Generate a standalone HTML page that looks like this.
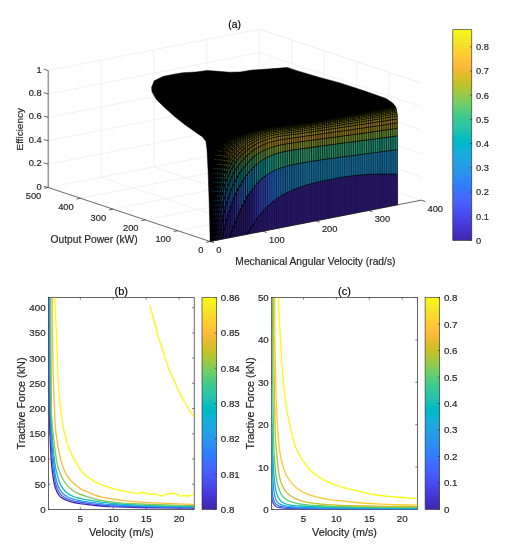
<!DOCTYPE html>
<html><head><meta charset="utf-8"><title>Figure</title>
<style>html,body{margin:0;padding:0;background:#fff;overflow:hidden}svg{display:block}text{font-family:"Liberation Sans", Arial, Helvetica, sans-serif}</style>
</head><body>
<svg width="505" height="550" viewBox="0 0 505 550" font-family='"Liberation Sans", Arial, Helvetica, sans-serif'>
<defs><linearGradient id="pg" x1="0" y1="1" x2="0" y2="0"><stop offset="0.0000" stop-color="#3e26a8"/><stop offset="0.0159" stop-color="#402ab4"/><stop offset="0.0317" stop-color="#422ec0"/><stop offset="0.0476" stop-color="#4332cb"/><stop offset="0.0635" stop-color="#4537d5"/><stop offset="0.0794" stop-color="#463cde"/><stop offset="0.0952" stop-color="#4741e5"/><stop offset="0.1111" stop-color="#4747eb"/><stop offset="0.1270" stop-color="#484df0"/><stop offset="0.1429" stop-color="#4852f4"/><stop offset="0.1587" stop-color="#4758f8"/><stop offset="0.1746" stop-color="#465efb"/><stop offset="0.1905" stop-color="#4563fd"/><stop offset="0.2063" stop-color="#4269fe"/><stop offset="0.2222" stop-color="#3e6fff"/><stop offset="0.2381" stop-color="#3875fe"/><stop offset="0.2540" stop-color="#327cfc"/><stop offset="0.2698" stop-color="#2f81fa"/><stop offset="0.2857" stop-color="#2e87f7"/><stop offset="0.3016" stop-color="#2d8cf3"/><stop offset="0.3175" stop-color="#2b91ef"/><stop offset="0.3333" stop-color="#2797eb"/><stop offset="0.3492" stop-color="#259be8"/><stop offset="0.3651" stop-color="#23a0e5"/><stop offset="0.3810" stop-color="#20a5e3"/><stop offset="0.3968" stop-color="#1ca9df"/><stop offset="0.4127" stop-color="#18addb"/><stop offset="0.4286" stop-color="#12b1d6"/><stop offset="0.4444" stop-color="#08b5d0"/><stop offset="0.4603" stop-color="#01b8ca"/><stop offset="0.4762" stop-color="#02bac3"/><stop offset="0.4921" stop-color="#0bbdbd"/><stop offset="0.5079" stop-color="#19bfb6"/><stop offset="0.5238" stop-color="#24c1ae"/><stop offset="0.5397" stop-color="#2cc4a7"/><stop offset="0.5556" stop-color="#31c69f"/><stop offset="0.5714" stop-color="#37c897"/><stop offset="0.5873" stop-color="#3fca8e"/><stop offset="0.6032" stop-color="#4acb84"/><stop offset="0.6190" stop-color="#57cc7a"/><stop offset="0.6349" stop-color="#64cd6f"/><stop offset="0.6508" stop-color="#72cd64"/><stop offset="0.6667" stop-color="#81cc59"/><stop offset="0.6825" stop-color="#8fcb4e"/><stop offset="0.6984" stop-color="#9dc943"/><stop offset="0.7143" stop-color="#abc739"/><stop offset="0.7302" stop-color="#b9c431"/><stop offset="0.7460" stop-color="#c5c22a"/><stop offset="0.7619" stop-color="#d1bf27"/><stop offset="0.7778" stop-color="#dcbd29"/><stop offset="0.7937" stop-color="#e6bb2d"/><stop offset="0.8095" stop-color="#f0ba36"/><stop offset="0.8254" stop-color="#f8ba3d"/><stop offset="0.8413" stop-color="#febe3c"/><stop offset="0.8571" stop-color="#fec338"/><stop offset="0.8730" stop-color="#fec934"/><stop offset="0.8889" stop-color="#fccf30"/><stop offset="0.9048" stop-color="#fad62d"/><stop offset="0.9206" stop-color="#f7dc2a"/><stop offset="0.9365" stop-color="#f5e327"/><stop offset="0.9524" stop-color="#f5e924"/><stop offset="0.9683" stop-color="#f6ef20"/><stop offset="0.9841" stop-color="#f7f51b"/><stop offset="1.0000" stop-color="#f9fb15"/></linearGradient></defs>
<rect width="505" height="550" fill="#fff"/>
<line x1="263" y1="231.17" x2="101" y2="177.17" stroke="#e9e9e9" stroke-width="0.65"/>
<line x1="101" y1="177.17" x2="101" y2="60.17" stroke="#e9e9e9" stroke-width="0.65"/>
<line x1="315.8" y1="220.84" x2="153.8" y2="166.84" stroke="#e9e9e9" stroke-width="0.65"/>
<line x1="153.8" y1="166.84" x2="153.8" y2="49.84" stroke="#e9e9e9" stroke-width="0.65"/>
<line x1="368.6" y1="210.51" x2="206.6" y2="156.51" stroke="#e9e9e9" stroke-width="0.65"/>
<line x1="206.6" y1="156.51" x2="206.6" y2="39.51" stroke="#e9e9e9" stroke-width="0.65"/>
<line x1="177.8" y1="230.7" x2="389" y2="189.38" stroke="#e9e9e9" stroke-width="0.65"/>
<line x1="389" y1="189.38" x2="389" y2="72.38" stroke="#e9e9e9" stroke-width="0.65"/>
<line x1="145.4" y1="219.9" x2="356.6" y2="178.58" stroke="#e9e9e9" stroke-width="0.65"/>
<line x1="356.6" y1="178.58" x2="356.6" y2="61.58" stroke="#e9e9e9" stroke-width="0.65"/>
<line x1="113" y1="209.1" x2="324.2" y2="167.78" stroke="#e9e9e9" stroke-width="0.65"/>
<line x1="324.2" y1="167.78" x2="324.2" y2="50.78" stroke="#e9e9e9" stroke-width="0.65"/>
<line x1="80.6" y1="198.3" x2="291.8" y2="156.98" stroke="#e9e9e9" stroke-width="0.65"/>
<line x1="291.8" y1="156.98" x2="291.8" y2="39.98" stroke="#e9e9e9" stroke-width="0.65"/>
<line x1="48.2" y1="164.1" x2="259.4" y2="122.78" stroke="#e9e9e9" stroke-width="0.65"/>
<line x1="259.4" y1="122.78" x2="421.4" y2="176.78" stroke="#e9e9e9" stroke-width="0.65"/>
<line x1="48.2" y1="140.7" x2="259.4" y2="99.38" stroke="#e9e9e9" stroke-width="0.65"/>
<line x1="259.4" y1="99.38" x2="421.4" y2="153.38" stroke="#e9e9e9" stroke-width="0.65"/>
<line x1="48.2" y1="117.3" x2="259.4" y2="75.98" stroke="#e9e9e9" stroke-width="0.65"/>
<line x1="259.4" y1="75.98" x2="421.4" y2="129.98" stroke="#e9e9e9" stroke-width="0.65"/>
<line x1="48.2" y1="93.9" x2="259.4" y2="52.58" stroke="#e9e9e9" stroke-width="0.65"/>
<line x1="259.4" y1="52.58" x2="421.4" y2="106.58" stroke="#e9e9e9" stroke-width="0.65"/>
<line x1="48.2" y1="70.5" x2="259.4" y2="29.18" stroke="#e9e9e9" stroke-width="0.65"/>
<line x1="259.4" y1="29.18" x2="421.4" y2="83.18" stroke="#e9e9e9" stroke-width="0.65"/>
<line x1="259.4" y1="146.18" x2="259.4" y2="29.18" stroke="#e9e9e9" stroke-width="0.65"/>
<line x1="48.2" y1="187.5" x2="259.4" y2="146.18" stroke="#e9e9e9" stroke-width="0.65"/>
<line x1="259.4" y1="146.18" x2="421.4" y2="200.18" stroke="#e9e9e9" stroke-width="0.65"/>
<clipPath id="sil"><path d="M151.6,87.4 L154.2,80.8 L163,76.4 L174,74.2 L182.8,72.7 L196,72 L207,70.5 L218,71.3 L229,72.2 L240,72 L252,70.1 L274,68.6 L287.2,67.5 L296,70.4 L318,77 L340,82.9 L364,90.8 L386,98.5 L392.6,102.9 L395.9,107.3 L397.4,115 L397.6,204.8 L210.2,241.5 L209.1,200 L208.1,171 L207,149 L205.9,141.3 L202.6,136.9 L196,132.5 L185,124.8 L174,116 L163,106.1 L156.4,99.5 L152,91.8Z"/></clipPath>
<path d="M151.6,87.4 L154.2,80.8 L163,76.4 L174,74.2 L182.8,72.7 L196,72 L207,70.5 L218,71.3 L229,72.2 L240,72 L252,70.1 L274,68.6 L287.2,67.5 L296,70.4 L318,77 L340,82.9 L364,90.8 L386,98.5 L392.6,102.9 L395.9,107.3 L397.4,115 L397.6,204.8 L210.2,241.5 L209.1,200 L208.1,171 L207,149 L205.9,141.3 L202.6,136.9 L196,132.5 L185,124.8 L174,116 L163,106.1 L156.4,99.5 L152,91.8Z" fill="#000" stroke="#000" stroke-width="0.5" stroke-linejoin="round"/>
<g clip-path="url(#sil)"><g>
<path d="M245.5,234.8L250,233.9L250,229.8L247.7,233.7L245.5,234.6Z" fill="#22145c"/><path d="M249.9,233.9L254.5,233.1L254.5,222.7L249.9,229.8Z" fill="#22155e"/><path d="M254.3,233.1L258.9,232.2L258.9,216.6L254.3,222.7Z" fill="#231561"/><path d="M258.7,232.2L263.3,231.3L263.3,211.2L258.7,216.6Z" fill="#241663"/><path d="M263.1,231.3L267.7,230.5L267.7,206.6L263.1,211.2Z" fill="#251765"/><path d="M267.5,230.5L272.1,229.6L272.1,202.6L267.5,206.6Z" fill="#261768"/><path d="M271.9,229.6L276.5,228.8L276.5,199.2L271.9,202.6Z" fill="#261768"/><path d="M276.4,228.8L303,223.6L303,186.2L294,189.4L287.4,192.5L280.8,196.2L276.4,199.2Z" fill="#261768"/><path d="M302.8,223.6L329.4,218.4L329.4,179.6L320.5,181.5L313.8,183L302.8,186.2Z" fill="#261768"/><path d="M329.3,218.4L355.9,213.2L355.9,175.4L344.7,176.8L329.3,179.6Z" fill="#261768"/><path d="M355.7,213.2L382.4,208L382.3,173.9L369,174.4L355.7,175.4Z" fill="#261768"/><path d="M382.2,208L397.8,205L397.8,174.2L382.2,173.9Z" fill="#261768"/><path d="M227.8,238.2L232.4,237.4L232.4,230.6L230,237.2L227.8,238Z" fill="#1f1356"/><path d="M232.3,237.4L236.8,236.5L236.8,218.7L232.2,230.6Z" fill="#201358"/><path d="M236.7,236.5L241.2,235.7L241.2,208.3L236.7,218.7Z" fill="#21145a"/><path d="M241.1,235.7L245.6,234.8L245.6,199.6L243.3,203.7L241.1,208.3Z" fill="#22155d"/><path d="M245.5,234.8L247.7,233.9L250,230L250,192.6L245.5,199.6Z" fill="#231661"/><path d="M249.9,230L252.2,226.4L252.2,189.5L249.9,192.6Z" fill="#261c73"/><path d="M252.1,226.4L254.5,222.9L254.4,186.7L252.1,189.5Z" fill="#292280"/><path d="M254.3,222.9L256.7,219.8L256.7,184.1L254.3,186.7Z" fill="#2a2889"/><path d="M256.5,219.8L258.9,216.8L258.9,181.8L256.5,184.1Z" fill="#2b2e90"/><path d="M258.7,216.8L261.1,214L261.1,179.7L258.7,181.8Z" fill="#2b3496"/><path d="M260.9,214L263.3,211.4L263.3,177.8L260.9,179.7Z" fill="#2b3a9a"/><path d="M263.1,211.4L265.5,209L265.5,176L263.1,177.8Z" fill="#2a3f9d"/><path d="M265.3,209L267.7,206.8L267.7,174.5L265.3,176Z" fill="#27449f"/><path d="M267.5,206.8L272.1,202.8L272.1,171.8L267.5,174.5Z" fill="#224ca2"/><path d="M271.9,202.8L276.5,199.4L276.5,169.7L271.9,171.8Z" fill="#1e539f"/><path d="M276.4,199.4L280.9,196.4L280.9,168L276.3,169.7Z" fill="#1c589c"/><path d="M280.8,196.4L285.3,193.8L285.3,166.6L280.8,168Z" fill="#1b5c98"/><path d="M285.2,193.8L291.9,190.6L291.9,164.9L285.2,166.6Z" fill="#186096"/><path d="M291.8,190.6L300.8,187.1L300.8,163.2L291.8,164.9Z" fill="#176393"/><path d="M300.6,187.1L305,185.7L311.6,183.8L325,180.7L325,159.3L311.6,161.3L300.6,163.2Z" fill="#156791"/><path d="M324.9,180.7L340.3,177.8L351.5,176.1L351.5,155.8L324.9,159.3Z" fill="#156891"/><path d="M351.3,176.1L364.6,174.8L377.9,174.2L377.9,152.3L351.3,155.8Z" fill="#156791"/><path d="M377.8,174.2L386.6,174.1L397.8,174.4L397.8,149.6L377.8,152.3Z" fill="#166592"/><path d="M219,240L223.6,239.1L223.6,232.5L221.2,239.3L219,239.8Z" fill="#21145b"/><path d="M223.4,239.1L228,238.2L228,215.7L225.6,223.6L223.4,232.5Z" fill="#22155e"/><path d="M227.8,238.2L230,237.4L232.4,230.8L232.4,202.4L230,208.6L227.8,215.7Z" fill="#241763"/><path d="M232.2,230.8L234.6,224.6L234.6,196.9L232.2,202.4Z" fill="#28217f"/><path d="M234.5,224.6L236.8,218.9L236.8,192L234.5,196.9Z" fill="#2a2c8e"/><path d="M236.7,218.9L239,213.5L239,187.6L236.7,192Z" fill="#2a3796"/><path d="M238.9,213.5L241.2,208.5L241.2,183.6L238.9,187.6Z" fill="#27429b"/><path d="M241.1,208.5L243.4,203.9L243.4,180L241.1,183.6Z" fill="#1e4c9c"/><path d="M243.3,203.9L245.6,199.8L245.6,176.7L243.3,180Z" fill="#1c569a"/><path d="M245.5,199.8L247.8,196.1L247.8,173.8L245.5,176.7Z" fill="#1a5d96"/><path d="M247.7,196.1L250,192.8L250,171.1L247.7,173.8Z" fill="#176594"/><path d="M249.9,192.8L252.2,189.7L252.2,168.7L249.9,171.1Z" fill="#146b93"/><path d="M252.1,189.7L254.4,186.9L254.4,166.5L252.1,168.7Z" fill="#117091"/><path d="M254.3,186.9L256.7,184.3L256.6,164.5L254.3,166.5Z" fill="#0c768f"/><path d="M256.5,184.3L258.9,182L258.9,162.7L256.5,164.5Z" fill="#047a8b"/><path d="M258.7,182L261.1,179.9L261.1,161.1L258.7,162.7Z" fill="#007d88"/><path d="M260.9,179.9L265.5,176.2L265.5,158.4L260.9,161.1Z" fill="#058284"/><path d="M265.3,176.2L269.9,173.3L269.9,156.2L265.3,158.4Z" fill="#13887f"/><path d="M269.7,173.3L274.3,170.9L274.3,154.4L269.7,156.2Z" fill="#1d8c7a"/><path d="M274.1,170.9L280.9,168.2L280.9,152.5L274.1,154.4Z" fill="#228d73"/><path d="M280.8,168.2L285.2,166.8L291.9,165.1L291.9,150.2L285.2,151.4L280.8,152.5Z" fill="#28906c"/><path d="M291.8,165.1L302.8,163L318.4,160.5L318.4,146.4L291.8,150.2Z" fill="#2d9166"/><path d="M318.2,160.5L344.8,156.8L344.8,142.9L318.2,146.4Z" fill="#2b9068"/><path d="M344.7,156.8L371.3,153.4L371.3,139.5L344.7,142.9Z" fill="#268f6e"/><path d="M371.2,153.4L397.8,149.8L397.8,135.9L371.1,139.5Z" fill="#218d74"/><path d="M214.6,240.8L219.2,240L219.2,237.1L216.8,240.2L214.6,240.6Z" fill="#1e1253"/><path d="M219,240L221.2,239.5L223.6,232.7L223.6,215L221.2,225.1L219,237.1Z" fill="#1f1356"/><path d="M223.4,232.7L225.8,223.8L225.8,206.4L223.4,215Z" fill="#241e73"/><path d="M225.6,223.8L228,215.9L228,199.1L225.6,206.4Z" fill="#252d83"/><path d="M227.8,215.9L230.2,208.8L230.2,192.8L227.8,199.1Z" fill="#213b89"/><path d="M230,208.8L232.4,202.6L232.4,187.3L230,192.8Z" fill="#194987"/><path d="M232.2,202.6L234.6,197.1L234.6,182.4L232.2,187.3Z" fill="#155382"/><path d="M234.5,197.1L236.8,192.2L236.8,178.1L234.4,182.4Z" fill="#115c7f"/><path d="M236.7,192.2L239,187.8L239,174.3L236.7,178.1Z" fill="#0a647a"/><path d="M238.9,187.8L241.2,183.8L241.2,170.9L238.9,174.3Z" fill="#006a74"/><path d="M241.1,183.8L243.4,180.2L243.4,167.9L241.1,170.9Z" fill="#076e6e"/><path d="M243.3,180.2L245.6,176.9L245.6,165.1L243.3,167.9Z" fill="#147267"/><path d="M245.5,176.9L247.8,174L247.8,162.6L245.5,165.1Z" fill="#1c7661"/><path d="M247.7,174L250,171.3L250,160.4L247.7,162.6Z" fill="#21795b"/><path d="M249.9,171.3L252.2,168.9L252.2,158.4L249.9,160.4Z" fill="#287c56"/><path d="M252.1,168.9L256.6,164.7L256.6,154.9L252.1,158.4Z" fill="#357f4d"/><path d="M256.5,164.7L261.1,161.3L261.1,152.1L256.5,154.9Z" fill="#458342"/><path d="M260.9,161.3L265.5,158.6L265.5,149.8L260.9,152.1Z" fill="#54853a"/><path d="M265.3,158.6L269.9,156.4L269.9,148L265.3,149.8Z" fill="#618733"/><path d="M269.7,156.4L274.3,154.6L274.3,146.6L269.7,148Z" fill="#6a882d"/><path d="M274.1,154.6L278.5,153.2L285.3,151.6L285.3,144L278.5,145.4L274.1,146.6Z" fill="#738727"/><path d="M285.2,151.6L294,150L311.8,147.5L311.8,140.3L294,142.7L285.2,144Z" fill="#7b8522"/><path d="M311.6,147.5L338.2,144L338.2,136.7L311.6,140.3Z" fill="#788624"/><path d="M338.1,144L362.5,140.9L362.5,133.4L338.1,136.7Z" fill="#6f882a"/><path d="M362.3,140.9L388.9,137.3L388.9,129.6L362.3,133.4Z" fill="#668931"/><path d="M388.8,137.3L397.8,136.1L397.7,128.3L388.8,129.6Z" fill="#5f8a36"/><path d="M214.6,240.8L216.8,240.4L219.2,237.3L219.2,222.1L216.8,237L214.6,240.6Z" fill="#1d114e"/><path d="M219,237.3L221.4,225.3L221.4,210.3L219,222.1Z" fill="#201860"/><path d="M221.2,225.3L223.6,215.2L223.6,200.8L221.2,210.3Z" fill="#222977"/><path d="M223.4,215.2L225.8,206.6L225.8,193L223.4,200.8Z" fill="#1b3a7d"/><path d="M225.6,206.6L228,199.3L228,186.4L225.6,193Z" fill="#154877"/><path d="M227.8,199.3L230.2,193L230.2,180.8L227.8,186.4Z" fill="#105372"/><path d="M230,193L232.4,187.5L232.4,176L230,180.8Z" fill="#065c6c"/><path d="M232.2,187.5L234.6,182.6L234.6,171.8L232.2,176Z" fill="#036264"/><path d="M234.4,182.6L236.8,178.3L236.8,168.1L234.4,171.8Z" fill="#13665c"/><path d="M236.7,178.3L239,174.5L239,164.8L236.7,168.1Z" fill="#1b6a54"/><path d="M238.9,174.5L241.2,171.1L241.2,161.9L238.9,164.8Z" fill="#236d4c"/><path d="M241.1,171.1L243.4,168.1L243.4,159.3L241.1,161.9Z" fill="#2e7044"/><path d="M243.3,168.1L245.6,165.3L245.6,157L243.3,159.3Z" fill="#3a723b"/><path d="M245.5,165.3L247.8,162.8L247.8,154.9L245.5,157Z" fill="#457334"/><path d="M247.7,162.8L250,160.6L250,153L247.7,154.9Z" fill="#50742d"/><path d="M249.9,160.6L254.4,156.8L254.4,149.7L249.9,153Z" fill="#5d7425"/><path d="M254.3,156.8L258.8,153.6L258.8,147.1L254.3,149.7Z" fill="#6c751e"/><path d="M258.7,153.6L263.3,151.1L263.3,144.9L258.7,147.1Z" fill="#787619"/><path d="M263.1,151.1L267.7,149.1L267.7,143.1L263.1,144.9Z" fill="#837718"/><path d="M267.5,149.1L272.1,147.4L272.1,141.7L267.5,143.1Z" fill="#8e781a"/><path d="M271.9,147.4L276.5,146.1L276.5,140.6L271.9,141.7Z" fill="#95771e"/><path d="M276.3,146.1L280.7,145.1L287.4,143.9L302.9,141.7L302.9,136.5L285.1,139L276.3,140.6Z" fill="#9d7725"/><path d="M302.8,141.7L329.4,138.1L329.4,132.8L302.8,136.5Z" fill="#9d7725"/><path d="M329.2,138.1L355.8,134.5L355.8,129L329.2,132.8Z" fill="#95771e"/><path d="M355.7,134.5L382.3,130.8L382.3,125.2L355.7,129Z" fill="#8a7919"/><path d="M382.2,130.8L397.7,128.5L397.7,122.8L382.1,125.2Z" fill="#827a19"/><path d="M214.6,240.8L217,237.2L217,224.7L214.6,240.6Z" fill="#1c114b"/><path d="M216.8,237.2L219.2,222.3L219.2,209.9L216.8,224.7Z" fill="#1f175e"/><path d="M219,222.3L221.4,210.5L221.4,198.8L219,209.9Z" fill="#202d75"/><path d="M221.2,210.5L223.6,201L223.6,190L221.2,198.8Z" fill="#154173"/><path d="M223.4,201L225.8,193.2L225.8,182.9L223.4,190Z" fill="#0f4e6c"/><path d="M225.6,193.2L228,186.6L228,177.1L225.6,182.9Z" fill="#025764"/><path d="M227.8,186.6L230.2,181L230.2,172.1L227.8,177.1Z" fill="#0a5e5a"/><path d="M230,181L232.4,176.2L232.4,167.9L230,172.1Z" fill="#176250"/><path d="M232.2,176.2L234.6,172L234.6,164.2L232.2,167.9Z" fill="#216645"/><path d="M234.4,172L236.8,168.3L236.8,161L234.4,164.2Z" fill="#30683b"/><path d="M236.7,168.3L239,165L239,158.2L236.6,161Z" fill="#3e6a31"/><path d="M238.9,165L241.2,162.1L241.2,155.7L238.9,158.2Z" fill="#4b6a29"/><path d="M241.1,162.1L243.4,159.5L243.4,153.4L241.1,155.7Z" fill="#576a21"/><path d="M243.3,159.5L245.6,157.2L245.6,151.4L243.3,153.4Z" fill="#606a1c"/><path d="M245.5,157.2L250,153.2L250,147.9L245.5,151.4Z" fill="#6d6a17"/><path d="M249.9,153.2L254.4,149.9L254.4,145.1L249.9,147.9Z" fill="#7e6a17"/><path d="M254.3,149.9L258.8,147.3L258.8,142.7L254.3,145.1Z" fill="#8d6b20"/><path d="M258.7,147.3L263.3,145.1L263.2,140.8L258.7,142.7Z" fill="#967123"/><path d="M263.1,145.1L267.7,143.3L267.7,139.3L263.1,140.8Z" fill="#997720"/><path d="M267.5,143.3L272.1,141.9L272.1,138L267.5,139.3Z" fill="#9c7e1e"/><path d="M271.9,141.9L276.5,140.8L276.5,137L271.9,138Z" fill="#9c801d"/><path d="M276.3,140.8L285.1,139.2L302.9,136.7L302.9,133.2L285.1,135.5L276.3,137Z" fill="#9a851b"/><path d="M302.8,136.7L329.4,133L329.4,129.4L302.8,133.2Z" fill="#9a841b"/><path d="M329.2,133L355.8,129.2L355.8,125.4L329.2,129.4Z" fill="#9c7f1e"/><path d="M355.7,129.2L382.3,125.4L382.3,121.3L355.7,125.4Z" fill="#9d7a21"/><path d="M382.1,125.4L397.7,123L397.7,118.9L382.1,121.3Z" fill="#9d7624"/><path d="M210.2,241.7L214.8,240.8L214.8,234.4L212.4,241.1L210.2,241.5Z" fill="#190f46"/><path d="M214.6,240.8L217,224.9L217,214.2L214.6,234.4Z" fill="#1a1046"/><path d="M216.8,224.9L219.2,210.1L219.2,200.2L216.8,214.2Z" fill="#1e276b"/><path d="M219,210.1L221.4,199L221.4,189.8L219,200.2Z" fill="#133d69"/><path d="M221.2,199L223.6,190.2L223.6,181.7L221.2,189.8Z" fill="#0b4b61"/><path d="M223.4,190.2L225.8,183.1L225.8,175.3L223.4,181.7Z" fill="#025456"/><path d="M225.6,183.1L228,177.3L228,170.1L225.6,175.3Z" fill="#14594a"/><path d="M227.8,177.3L230.2,172.3L230.2,165.7L227.8,170.1Z" fill="#1f5d3f"/><path d="M230,172.3L232.4,168.1L232.4,161.9L230,165.7Z" fill="#2f5f32"/><path d="M232.2,168.1L234.6,164.4L234.6,158.7L232.2,161.9Z" fill="#3f6028"/><path d="M234.4,164.4L236.8,161.2L236.8,155.9L234.4,158.7Z" fill="#4c601f"/><path d="M236.6,161.2L239,158.4L239,153.4L236.6,155.9Z" fill="#585f18"/><path d="M238.9,158.4L241.2,155.9L241.2,151.2L238.8,153.4Z" fill="#615f14"/><path d="M241.1,155.9L245.6,151.6L245.6,147.5L241.1,151.2Z" fill="#705e15"/><path d="M245.5,151.6L250,148.1L250,144.4L245.5,147.5Z" fill="#80601f"/><path d="M249.9,148.1L254.4,145.3L254.4,141.8L249.9,144.4Z" fill="#86691b"/><path d="M254.3,145.3L258.8,142.9L258.8,139.7L254.3,141.8Z" fill="#877119"/><path d="M258.7,142.9L263.2,141L263.2,138L258.7,139.7Z" fill="#887917"/><path d="M263.1,141L267.7,139.5L267.6,136.6L263.1,138Z" fill="#8b7e17"/><path d="M267.5,139.5L272.1,138.2L272.1,135.4L267.5,136.6Z" fill="#8d8217"/><path d="M271.9,138.2L276.5,137.2L276.5,134.5L271.9,135.4Z" fill="#8e8416"/><path d="M276.3,137.2L285.1,135.7L302.9,133.4L302.9,130.8L285.1,133.1L276.3,134.5Z" fill="#8e8515"/><path d="M302.8,133.4L329.4,129.6L329.4,126.9L302.8,130.8Z" fill="#8e8516"/><path d="M329.2,129.6L355.8,125.6L355.8,122.7L329.2,126.9Z" fill="#8e8316"/><path d="M355.7,125.6L382.3,121.5L382.2,118.5L355.6,122.7Z" fill="#8e8017"/><path d="M382.1,121.5L397.7,119.1L397.7,116L382.1,118.5Z" fill="#8f7d18"/><path d="M210.2,241.7L212.4,241.3L214.8,234.6L214.8,225L212.4,241.1L210.2,241.5Z" fill="#190f46"/><path d="M214.6,234.6L217,214.4L217,205.3L214.6,225Z" fill="#1e1b60"/><path d="M216.8,214.4L219.2,200.4L219.2,192L216.8,205.3Z" fill="#13386a"/><path d="M219,200.4L221.4,190L221.4,182.4L219,192Z" fill="#0c4a61"/><path d="M221.2,190L223.6,181.9L223.6,175.1L221.2,182.4Z" fill="#055353"/><path d="M223.4,181.9L225.8,175.5L225.8,169.3L223.4,175.1Z" fill="#175945"/><path d="M225.6,175.5L228,170.3L228,164.6L225.6,169.3Z" fill="#275c37"/><path d="M227.8,170.3L230.2,165.9L230.2,160.7L227.8,164.6Z" fill="#3a5e29"/><path d="M230,165.9L232.4,162.1L232.4,157.4L230,160.7Z" fill="#495d1e"/><path d="M232.2,162.1L234.6,158.9L234.6,154.5L232.2,157.4Z" fill="#575c17"/><path d="M234.4,158.9L236.8,156.1L236.8,152L234.4,154.5Z" fill="#615c13"/><path d="M236.6,156.1L239,153.6L239,149.8L236.6,152Z" fill="#6e5b15"/><path d="M238.8,153.6L243.4,149.4L243.4,146.1L238.8,149.8Z" fill="#7c5d1e"/><path d="M243.3,149.4L247.8,146L247.8,143L243.3,146.1Z" fill="#806719"/><path d="M247.7,146L252.2,143.2L252.2,140.5L247.7,143Z" fill="#817116"/><path d="M252.1,143.2L256.6,140.9L256.6,138.4L252.1,140.5Z" fill="#837715"/><path d="M256.5,140.9L261,139L261,136.6L256.5,138.4Z" fill="#867d14"/><path d="M260.9,139L265.4,137.4L265.4,135.2L260.9,136.6Z" fill="#898114"/><path d="M265.3,137.4L269.9,136.2L269.8,134L265.3,135.2Z" fill="#8c8614"/><path d="M269.7,136.2L274.3,135.2L274.3,133L269.7,134Z" fill="#8e8913"/><path d="M274.1,135.2L282.9,133.6L300.7,131.3L300.7,129.3L282.9,131.6L274.1,133Z" fill="#8e8b12"/><path d="M300.6,131.3L327.2,127.5L327.1,125.4L300.5,129.3Z" fill="#8e8a12"/><path d="M327,127.5L353.6,123.3L353.6,121.1L327,125.4Z" fill="#8e8813"/><path d="M353.4,123.3L380,119.1L380,116.7L353.4,121.1Z" fill="#8e8615"/><path d="M379.9,119.1L397.7,116.2L397.6,113.8L379.9,116.7Z" fill="#8e8416"/><path d="M210.2,241.7L212.4,241.3L214.8,225.2L214.8,216.7L212.4,241.1L210.2,241.5Z" fill="#190f46"/><path d="M214.6,225.2L217,205.5L217,197.7L214.6,216.7Z" fill="#1d286a"/><path d="M216.8,205.5L219.2,192.2L219.2,185.2L216.8,197.7Z" fill="#0f4462"/><path d="M219,192.2L221.4,182.6L221.4,176.4L219,185.2Z" fill="#015154"/><path d="M221.2,182.6L223.6,175.3L223.6,169.7L221.2,176.4Z" fill="#165744"/><path d="M223.4,175.3L225.8,169.5L225.8,164.5L223.4,169.7Z" fill="#2a5b33"/><path d="M225.6,169.5L228,164.8L228,160.3L225.6,164.5Z" fill="#3e5c24"/><path d="M227.8,164.8L230.2,160.9L230.2,156.8L227.8,160.3Z" fill="#4f5b19"/><path d="M230,160.9L232.4,157.6L232.4,153.8L230,156.8Z" fill="#5c5a13"/><path d="M232.2,157.6L234.6,154.7L234.6,151.3L232.2,153.8Z" fill="#6a5914"/><path d="M234.4,154.7L236.8,152.2L236.8,149L234.4,151.3Z" fill="#76591c"/><path d="M236.6,152.2L241.2,148.1L241.2,145.3L236.6,149Z" fill="#7c6119"/><path d="M241,148.1L245.6,144.7L245.6,142.2L241,145.3Z" fill="#7c6d15"/><path d="M245.5,144.7L250,141.9L250,139.6L245.5,142.2Z" fill="#7e7414"/><path d="M249.9,141.9L254.4,139.6L254.4,137.5L249.9,139.6Z" fill="#817a13"/><path d="M254.3,139.6L258.8,137.6L258.8,135.7L254.3,137.5Z" fill="#847f12"/><path d="M258.7,137.6L263.2,136.1L263.2,134.2L258.7,135.7Z" fill="#888411"/><path d="M263.1,136.1L267.6,134.8L267.6,133L263.1,134.2Z" fill="#8b8810"/><path d="M267.5,134.8L272,133.7L272,132L267.5,133Z" fill="#8f8c10"/><path d="M271.9,133.7L276.5,132.8L276.4,131.2L271.9,132Z" fill="#8f8d10"/><path d="M276.3,132.8L285.1,131.5L302.9,129.2L302.9,127.7L282.9,130.2L276.3,131.2Z" fill="#8f8e0f"/><path d="M302.7,129.2L329.3,125.2L329.3,123.6L302.7,127.7Z" fill="#8f8e0f"/><path d="M329.2,125.2L355.8,120.9L355.8,119.2L329.2,123.6Z" fill="#8f8c10"/><path d="M355.6,120.9L382.2,116.6L382.2,114.7L355.6,119.2Z" fill="#8e8b12"/><path d="M382.1,116.6L397.6,114L397.6,112.1L382,114.7Z" fill="#8e8a13"/><path d="M210.2,241.7L212.4,241.3L214.8,216.9L214.8,209.3L212.4,241.1L210.2,241.5Z" fill="#190f46"/><path d="M214.6,216.9L217,197.9L217,191.1L214.6,209.3Z" fill="#14366a"/><path d="M216.8,197.9L219.2,185.4L219.2,179.5L216.8,191.1Z" fill="#064c5a"/><path d="M219,185.4L221.4,176.6L221.4,171.4L219,179.5Z" fill="#135547"/><path d="M221.2,176.6L223.6,169.9L223.6,165.3L221.2,171.4Z" fill="#275a35"/><path d="M223.4,169.9L225.8,164.7L225.8,160.6L223.4,165.3Z" fill="#3f5a23"/><path d="M225.6,164.7L228,160.5L228,156.8L225.6,160.6Z" fill="#515917"/><path d="M227.8,160.5L230.2,157L230.2,153.7L227.8,156.8Z" fill="#5e5812"/><path d="M230,157L232.4,154L232.4,151L230,153.7Z" fill="#6f5618"/><path d="M232.2,154L234.6,151.5L234.6,148.7L232.2,151Z" fill="#785a1b"/><path d="M234.4,151.5L239,147.2L239,144.8L234.4,148.7Z" fill="#796517"/><path d="M238.8,147.2L243.4,143.9L243.4,141.7L238.8,144.8Z" fill="#7a6f13"/><path d="M243.2,143.9L247.8,141.1L247.8,139.2L243.2,141.7Z" fill="#7c7612"/><path d="M247.7,141.1L252.2,138.7L252.2,137L247.6,139.2Z" fill="#7f7b11"/><path d="M252.1,138.7L256.6,136.8L256.6,135.2L252.1,137Z" fill="#838010"/><path d="M256.5,136.8L261,135.1L261,133.6L256.5,135.2Z" fill="#87850f"/><path d="M260.9,135.1L265.4,133.8L265.4,132.4L260.9,133.6Z" fill="#8a890e"/><path d="M265.3,133.8L269.8,132.7L269.8,131.3L265.3,132.4Z" fill="#8e8e0d"/><path d="M269.7,132.7L274.2,131.8L274.2,130.5L269.7,131.3Z" fill="#90900c"/><path d="M274.1,131.8L282.9,130.4L300.7,128.2L300.7,126.9L282.9,129.1L274.1,130.5Z" fill="#90910c"/><path d="M300.5,128.2L311.5,126.6L327.1,124.2L327.1,122.8L311.5,125.3L300.5,126.9Z" fill="#90910c"/><path d="M327,124.2L353.6,119.8L353.5,118.3L326.9,122.8Z" fill="#8f900d"/><path d="M353.4,119.8L380,115.3L380,113.8L353.4,118.3Z" fill="#8f8e0f"/><path d="M379.8,115.3L397.6,112.3L397.6,110.7L379.8,113.8Z" fill="#8f8d10"/><path d="M210.2,241.7L212.6,241.3L212.6,235.2L210.2,241.5Z" fill="#190f46"/><path d="M212.4,241.3L214.8,209.5L214.8,202.7L212.4,235.2Z" fill="#1c1556"/><path d="M214.6,209.5L217,191.3L217,185.5L214.6,202.7Z" fill="#103f62"/><path d="M216.8,191.3L219.2,179.7L219.2,174.7L216.8,185.5Z" fill="#06514f"/><path d="M219,179.7L221.4,171.6L221.4,167.2L219,174.7Z" fill="#1e583a"/><path d="M221.2,171.6L223.6,165.5L223.6,161.7L221.2,167.2Z" fill="#3a5a25"/><path d="M223.4,165.5L225.8,160.8L225.8,157.4L223.4,161.7Z" fill="#4f5817"/><path d="M225.6,160.8L228,157L228,154L225.6,157.4Z" fill="#5f5611"/><path d="M227.8,157L230.2,153.9L230.2,151.1L227.8,154Z" fill="#70551a"/><path d="M230,153.9L232.4,151.2L232.4,148.7L230,151.1Z" fill="#765b1a"/><path d="M232.2,151.2L234.6,148.9L234.6,146.6L232.2,148.7Z" fill="#766316"/><path d="M234.4,148.9L239,145L239,143.1L234.4,146.6Z" fill="#766b13"/><path d="M238.8,145L243.4,141.9L243.4,140.2L238.8,143.1Z" fill="#797312"/><path d="M243.2,141.9L247.8,139.4L247.8,137.8L243.2,140.2Z" fill="#7c7910"/><path d="M247.6,139.4L252.2,137.2L252.2,135.8L247.6,137.8Z" fill="#807e0f"/><path d="M252.1,137.2L256.6,135.4L256.6,134L252,135.8Z" fill="#84830d"/><path d="M256.5,135.4L261,133.8L261,132.6L256.5,134Z" fill="#87880c"/><path d="M260.9,133.8L265.4,132.6L265.4,131.4L260.9,132.6Z" fill="#8b8c0b"/><path d="M265.3,132.6L269.8,131.5L269.8,130.4L265.3,131.4Z" fill="#8e8f0c"/><path d="M269.7,131.5L274.2,130.7L274.2,129.5L269.7,130.4Z" fill="#90910c"/><path d="M274.1,130.7L282.9,129.3L300.7,127.1L300.6,126.1L282.9,128.3L274.1,129.5Z" fill="#90910c"/><path d="M300.5,127.1L311.5,125.5L327.1,123L327.1,121.9L311.5,124.5L300.5,126.1Z" fill="#90910c"/><path d="M326.9,123L353.5,118.5L353.5,117.4L326.9,121.9Z" fill="#90910c"/><path d="M353.4,118.5L380,114L379.9,112.7L353.4,117.4Z" fill="#90910c"/><path d="M379.8,114L397.6,110.9L397.6,109.6L379.8,112.7Z" fill="#8f900d"/><path d="M210.2,241.7L212.6,235.4L212.6,228.7L210.2,241.5Z" fill="#190f46"/><path d="M212.4,235.4L214.8,202.9L214.8,196.9L212.4,228.7Z" fill="#1e1e63"/><path d="M214.6,202.9L217,185.7L217,180.6L214.6,196.9Z" fill="#0b475e"/><path d="M216.8,185.7L219.2,174.9L219.2,170.6L216.8,180.6Z" fill="#145445"/><path d="M219,174.9L221.4,167.4L221.4,163.7L219,170.6Z" fill="#2f592c"/><path d="M221.2,167.4L223.6,161.9L223.6,158.7L221.2,163.7Z" fill="#4a571a"/><path d="M223.4,161.9L225.8,157.6L225.8,154.8L223.4,158.7Z" fill="#5b5611"/><path d="M225.6,157.6L228,154.2L228,151.7L225.6,154.8Z" fill="#6e5419"/><path d="M227.8,154.2L230.2,151.3L230.2,149.1L227.8,151.7Z" fill="#755b18"/><path d="M230,151.3L232.4,148.9L232.4,146.8L230,149.1Z" fill="#746315"/><path d="M232.2,148.9L236.8,144.9L236.8,143.2L232.2,146.8Z" fill="#746b13"/><path d="M236.6,144.9L241.2,141.8L241.2,140.3L236.6,143.2Z" fill="#777311"/><path d="M241,141.8L245.6,139.2L245.6,137.8L241,140.3Z" fill="#7b790f"/><path d="M245.4,139.2L250,137L250,135.7L245.4,137.8Z" fill="#7f7e0d"/><path d="M249.8,137L254.4,135.1L254.4,133.9L249.8,135.7Z" fill="#83830b"/><path d="M254.2,135.1L258.8,133.5L258.8,132.4L254.2,133.9Z" fill="#86870b"/><path d="M258.7,133.5L263.2,132.2L263.2,131.1L258.6,132.4Z" fill="#898a0b"/><path d="M263.1,132.2L267.6,131L267.6,130.1L263,131.1Z" fill="#8d8e0b"/><path d="M267.5,131L272,130.1L272,129.2L267.5,130.1Z" fill="#90910c"/><path d="M271.9,130.1L276.4,129.4L276.4,128.5L271.9,129.2Z" fill="#90910c"/><path d="M276.3,129.4L302.9,126L302.8,125.1L276.3,128.5Z" fill="#90910c"/><path d="M302.7,126L313.7,124.3L329.3,121.8L329.3,120.8L313.7,123.4L302.7,125.1Z" fill="#90910c"/><path d="M329.1,121.8L355.7,117.2L355.7,116.2L329.1,120.8Z" fill="#90910c"/><path d="M355.6,117.2L382.1,112.5L382.1,111.5L355.5,116.2Z" fill="#90910c"/><path d="M382,112.5L397.6,109.8L397.5,108.7L382,111.5Z" fill="#90910c"/><path d="M210.2,241.7L212.6,228.9L212.6,222.7L210.2,241.5Z" fill="#190f46"/><path d="M212.4,228.9L214.8,197.1L214.8,191.8L212.4,222.7Z" fill="#1d2869"/><path d="M214.6,197.1L217,180.8L217,176.4L214.6,191.8Z" fill="#014d56"/><path d="M216.8,180.8L219.2,170.8L219.2,167.1L216.8,176.4Z" fill="#1e573a"/><path d="M219,170.8L221.4,163.9L221.4,160.8L219,167.1Z" fill="#3f5721"/><path d="M221.2,163.9L223.6,158.9L223.6,156.2L221.2,160.8Z" fill="#565512"/><path d="M223.4,158.9L225.8,155L225.8,152.6L223.4,156.2Z" fill="#6a5317"/><path d="M225.6,155L228,151.9L228,149.7L225.6,152.6Z" fill="#735918"/><path d="M227.8,151.9L230.2,149.3L230.2,147.3L227.8,149.7Z" fill="#736214"/><path d="M230,149.3L232.2,147L234.6,145.1L234.6,143.5L230,147.3Z" fill="#736a12"/><path d="M234.4,145.1L239,141.8L239,140.5L234.4,143.5Z" fill="#767210"/><path d="M238.8,141.8L243.4,139.2L243.4,138L238.8,140.5Z" fill="#7a780d"/><path d="M243.2,139.2L247.8,136.9L247.8,135.8L243.2,138Z" fill="#7e7e0b"/><path d="M247.6,136.9L252.2,135L252.2,134L247.6,135.8Z" fill="#81820a"/><path d="M252,135L256.6,133.3L256.6,132.4L252,134Z" fill="#85860b"/><path d="M256.4,133.3L261,131.9L261,131L256.4,132.4Z" fill="#88890b"/><path d="M260.8,131.9L265.4,130.8L265.4,129.9L260.8,131Z" fill="#8b8c0b"/><path d="M265.2,130.8L269.8,129.8L269.8,129L265.2,129.9Z" fill="#8e8f0c"/><path d="M269.7,129.8L274.2,129L274.2,128.2L269.6,129Z" fill="#90910c"/><path d="M274.1,129L280.7,128L300.6,125.6L300.6,124.8L280.6,127.2L274,128.2Z" fill="#90910c"/><path d="M300.5,125.6L311.5,124L327.1,121.4L327,120.6L311.5,123.2L300.5,124.8Z" fill="#90910c"/><path d="M326.9,121.4L353.5,116.8L353.5,115.9L326.9,120.6Z" fill="#90910c"/><path d="M353.3,116.8L379.9,112.1L379.9,111.1L353.3,115.9Z" fill="#90910c"/><path d="M379.8,112.1L397.5,108.9L397.5,107.9L379.7,111.1Z" fill="#90910c"/><path d="M210.2,241.7L212.6,222.9L212.6,217.1L210.2,241.5Z" fill="#190f46"/><path d="M212.4,222.9L214.8,192L214.8,187.2L212.4,217.1Z" fill="#16316a"/><path d="M214.6,192L217,176.6L217,172.7L214.6,187.2Z" fill="#08504d"/><path d="M216.8,176.6L219.2,167.3L219.2,164.1L216.8,172.7Z" fill="#2b572e"/><path d="M219,167.3L221.4,161L221.4,158.3L219,164.1Z" fill="#4c5617"/><path d="M221.2,161L223.6,156.4L223.6,154L221.2,158.3Z" fill="#625312"/><path d="M223.4,156.4L225.8,152.8L225.8,150.7L223.4,154Z" fill="#715619"/><path d="M225.6,152.8L228,149.9L228,148.1L225.6,150.7Z" fill="#725f14"/><path d="M227.8,149.9L230.2,147.5L230.2,145.9L227.8,148.1Z" fill="#716712"/><path d="M230,147.5L234.6,143.7L234.6,142.3L230,145.9Z" fill="#736d10"/><path d="M234.4,143.7L239,140.7L239,139.5L234.4,142.3Z" fill="#76740e"/><path d="M238.8,140.7L243.4,138.2L243.4,137.1L238.8,139.5Z" fill="#7b7b0b"/><path d="M243.2,138.2L247.8,136L247.8,135.1L243.2,137.1Z" fill="#7e7f0a"/><path d="M247.6,136L252.2,134.2L252.2,133.3L247.6,135.1Z" fill="#81820a"/><path d="M252,134.2L256.6,132.6L256.6,131.8L252,133.3Z" fill="#85860b"/><path d="M256.4,132.6L261,131.2L261,130.5L256.4,131.8Z" fill="#88890b"/><path d="M260.8,131.2L265.4,130.1L265.4,129.4L260.8,130.5Z" fill="#8b8c0b"/><path d="M265.2,130.1L269.8,129.2L269.8,128.5L265.2,129.4Z" fill="#8e8f0c"/><path d="M269.6,129.2L274.2,128.4L274.2,127.7L269.6,128.5Z" fill="#90910c"/><path d="M274,128.4L280.6,127.4L300.6,125L300.6,124.3L274,127.7Z" fill="#90910c"/><path d="M300.5,125L311.5,123.4L327,120.8L327,120.1L311.4,122.7L300.4,124.3Z" fill="#90910c"/><path d="M326.9,120.8L353.5,116.1L353.4,115.3L326.9,120.1Z" fill="#90910c"/><path d="M353.3,116.1L379.9,111.3L379.8,110.5L353.3,115.3Z" fill="#90910c"/><path d="M379.7,111.3L397.5,108.1L397.4,107.3L379.7,110.5Z" fill="#90910c"/><path d="M210.2,241.7L212.6,217.3L212.6,211.9L210.2,241.5Z" fill="#190f46"/><path d="M212.4,217.3L214.8,187.4L214.8,183.1L212.4,211.9Z" fill="#123966"/><path d="M214.6,187.4L217,172.9L217,169.5L214.6,183.1Z" fill="#135344"/><path d="M216.8,172.9L219.2,164.3L219.2,161.5L216.8,169.5Z" fill="#395724"/><path d="M219,164.3L221.4,158.5L221.4,156.1L219,161.5Z" fill="#565412"/><path d="M221.2,158.5L223.6,154.2L223.6,152.2L221.2,156.1Z" fill="#6d521a"/><path d="M223.4,154.2L225.8,150.9L225.8,149.2L223.4,152.2Z" fill="#715c15"/><path d="M225.6,150.9L228,148.3L228,146.7L225.6,149.2Z" fill="#6f6412"/><path d="M227.8,148.3L230,146.1L232.4,144.2L232.4,142.9L230,144.6L227.8,146.7Z" fill="#716c10"/><path d="M232.2,144.2L236.8,141L236.8,139.9L232.2,142.9Z" fill="#75730d"/><path d="M236.6,141L241.2,138.4L241.2,137.5L236.6,139.9Z" fill="#79790b"/><path d="M241,138.4L245.6,136.2L245.6,135.4L241,137.5Z" fill="#7d7e0a"/><path d="M245.4,136.2L250,134.3L250,133.6L245.4,135.4Z" fill="#80810a"/><path d="M249.8,134.3L254.4,132.7L254.4,132L249.8,133.6Z" fill="#83840b"/><path d="M254.2,132.7L258.8,131.3L258.8,130.6L254.2,132Z" fill="#86870b"/><path d="M258.6,131.3L263.2,130.1L263.2,129.4L258.6,130.6Z" fill="#898a0b"/><path d="M263,130.1L267.6,129.1L267.6,128.4L263,129.4Z" fill="#8d8e0b"/><path d="M267.4,129.1L272,128.3L272,127.6L267.4,128.4Z" fill="#90910c"/><path d="M271.8,128.3L276.4,127.6L276.4,126.9L271.8,127.6Z" fill="#90910c"/><path d="M276.2,127.6L302.8,124.2L302.8,123.6L276.2,126.9Z" fill="#90910c"/><path d="M302.6,124.2L313.7,122.5L329.2,119.9L329.2,119.3L313.6,121.9L302.6,123.6Z" fill="#90910c"/><path d="M329.1,119.9L355.6,115.1L355.6,114.5L329,119.3Z" fill="#90910c"/><path d="M355.5,115.1L382,110.3L382,109.6L355.4,114.5Z" fill="#90910c"/><path d="M381.9,110.3L397.4,107.5L397.4,106.8L381.8,109.6Z" fill="#90910c"/><path d="M210.2,241.7L212.6,212.1L212.6,207.2L210.2,241.5Z" fill="#190f46"/><path d="M212.4,212.1L214.8,183.3L214.8,179.5L212.4,207.2Z" fill="#0f4061"/><path d="M214.6,183.3L217,169.7L217,166.7L214.6,179.5Z" fill="#1a553c"/><path d="M216.8,169.7L219.2,161.7L219.2,159.2L216.8,166.7Z" fill="#45551b"/><path d="M219,161.7L221.4,156.3L221.4,154.3L219,159.2Z" fill="#615112"/><path d="M221.2,156.3L223.6,152.4L223.6,150.6L221.2,154.3Z" fill="#705718"/><path d="M223.4,152.4L225.8,149.4L225.8,147.8L223.4,150.6Z" fill="#6f6113"/><path d="M225.6,149.4L228,146.9L228,145.5L225.6,147.8Z" fill="#6f6711"/><path d="M227.8,146.9L230,144.8L232.4,143.1L232.4,141.9L230,143.6L227.8,145.5Z" fill="#716e0f"/><path d="M232.2,143.1L236.8,140.1L236.8,139.1L232.2,141.9Z" fill="#76750c"/><path d="M236.6,140.1L241.2,137.7L241.2,136.8L236.6,139.1Z" fill="#797a0a"/><path d="M241,137.7L245.6,135.6L245.6,134.8L241,136.8Z" fill="#7d7e0a"/><path d="M245.4,135.6L250,133.8L250,133L245.4,134.8Z" fill="#80810a"/><path d="M249.8,133.8L254.4,132.2L254.4,131.5L249.8,133Z" fill="#83840b"/><path d="M254.2,132.2L258.8,130.8L258.8,130.2L254.2,131.5Z" fill="#86870b"/><path d="M258.6,130.8L263.2,129.6L263.2,129L258.6,130.2Z" fill="#898a0b"/><path d="M263,129.6L267.6,128.6L267.6,128.1L263,129Z" fill="#8d8e0b"/><path d="M267.4,128.6L272,127.8L272,127.3L267.4,128.1Z" fill="#90910c"/><path d="M271.8,127.8L276.4,127.1L276.4,126.6L271.8,127.3Z" fill="#90910c"/><path d="M276.2,127.1L302.8,123.8L302.8,123.3L276.2,126.6Z" fill="#90910c"/><path d="M302.6,123.8L313.6,122.1L329.2,119.5L329.2,118.9L313.6,121.6L302.6,123.3Z" fill="#90910c"/><path d="M329,119.5L355.6,114.7L355.6,114.1L329,118.9Z" fill="#90910c"/><path d="M355.4,114.7L382,109.8L382,109.2L355.4,114.1Z" fill="#90910c"/><path d="M381.8,109.8L397.4,107L397.4,106.3L381.8,109.2Z" fill="#90910c"/><path d="M210.2,241.7L212.6,207.4L212.5,202.8L210.2,241.5Z" fill="#190f46"/><path d="M212.4,207.4L214.8,179.7L214.7,176.3L212.4,202.8Z" fill="#0c455d"/><path d="M214.6,179.7L217,166.9L216.9,164.2L214.6,176.3Z" fill="#255633"/><path d="M216.8,166.9L219.2,159.4L219.1,157.3L216.8,164.2Z" fill="#4e5415"/><path d="M219,159.4L221.4,154.5L221.3,152.6L219,157.3Z" fill="#6a5019"/><path d="M221.2,154.5L223.6,150.8L223.5,149.3L221.2,152.6Z" fill="#6f5b15"/><path d="M223.4,150.8L225.8,148L225.7,146.6L223.4,149.3Z" fill="#6e6411"/><path d="M225.6,148L228,145.7L227.9,144.5L225.6,146.6Z" fill="#6f6910"/><path d="M227.8,145.7L230,143.8L232.4,142.1L232.3,141.1L227.8,144.5Z" fill="#72700d"/><path d="M232.2,142.1L236.8,139.3L236.7,138.5L232.2,141.1Z" fill="#76760a"/><path d="M236.6,139.3L241.2,137L241.1,136.3L236.6,138.5Z" fill="#797a0a"/><path d="M241,137L245.6,135L245.5,134.3L241,136.3Z" fill="#7d7e0a"/><path d="M245.4,135L250,133.2L249.9,132.6L245.4,134.3Z" fill="#80810a"/><path d="M249.8,133.2L254.4,131.7L254.3,131.1L249.8,132.6Z" fill="#83840b"/><path d="M254.2,131.7L258.8,130.4L258.7,129.8L254.2,131.1Z" fill="#86870b"/><path d="M258.6,130.4L263.2,129.2L263.1,128.7L258.6,129.8Z" fill="#898a0b"/><path d="M263,129.2L267.6,128.3L267.5,127.7L263,128.7Z" fill="#8d8e0b"/><path d="M267.4,128.3L272,127.5L271.9,127L267.4,127.7Z" fill="#90910c"/><path d="M271.8,127.5L276.4,126.8L276.3,126.3L271.8,127Z" fill="#90910c"/><path d="M276.2,126.8L302.8,123.5L302.7,123L276.2,126.3Z" fill="#90910c"/><path d="M302.6,123.5L313.6,121.8L329.2,119.1L329.1,118.6L313.6,121.3L302.6,123Z" fill="#90910c"/><path d="M329,119.1L355.6,114.3L355.5,113.7L329,118.6Z" fill="#90910c"/><path d="M355.4,114.3L382,109.4L381.9,108.8L355.4,113.7Z" fill="#90910c"/><path d="M381.8,109.4L397.4,106.5L397.3,105.9L381.8,108.8Z" fill="#90910c"/><path d="M210.2,241.7L212.5,203L212.5,198.8L210.2,241.5Z" fill="#190f46"/><path d="M212.4,203L214.7,176.5L214.7,173.4L212.4,198.8Z" fill="#074959"/><path d="M214.6,176.5L216.9,164.4L216.9,162.1L214.6,173.4Z" fill="#30562a"/><path d="M216.8,164.4L219.1,157.5L219.1,155.5L216.8,162.1Z" fill="#575211"/><path d="M219,157.5L221.3,152.8L221.3,151.2L219,155.5Z" fill="#6e5418"/><path d="M221.2,152.8L223.5,149.5L223.5,148.1L221.2,151.2Z" fill="#6d6012"/><path d="M223.4,149.5L225.7,146.8L225.7,145.6L223.4,148.1Z" fill="#6d6711"/><path d="M225.6,146.8L227.8,144.7L230.1,142.9L230.1,141.9L227.8,143.6L225.6,145.6Z" fill="#706d0e"/><path d="M230,142.9L234.5,139.9L234.5,139.1L230,141.9Z" fill="#74750a"/><path d="M234.4,139.9L238.9,137.5L238.9,136.8L234.4,139.1Z" fill="#78790a"/><path d="M238.8,137.5L243.3,135.5L243.3,134.8L238.8,136.8Z" fill="#7b7c0a"/><path d="M243.2,135.5L247.7,133.6L247.7,133L243.2,134.8Z" fill="#7e7f0a"/><path d="M247.6,133.6L252.1,132L252.1,131.5L247.6,133Z" fill="#81820a"/><path d="M252,132L256.5,130.6L256.5,130.1L252,131.5Z" fill="#85860b"/><path d="M256.4,130.6L260.9,129.4L260.9,128.9L256.4,130.1Z" fill="#88890b"/><path d="M260.8,129.4L265.3,128.4L265.3,127.9L260.8,128.9Z" fill="#8b8c0b"/><path d="M265.2,128.4L269.7,127.5L269.7,127.1L265.2,127.9Z" fill="#8e8f0c"/><path d="M269.6,127.5L274.1,126.8L274.1,126.3L269.6,127.1Z" fill="#90910c"/><path d="M274,126.8L300.5,123.5L300.5,123L274,126.3Z" fill="#90910c"/><path d="M300.4,123.5L311.4,121.8L326.9,119.2L326.9,118.7L311.3,121.4L300.4,123Z" fill="#90910c"/><path d="M326.8,119.2L353.3,114.3L353.3,113.8L326.7,118.7Z" fill="#90910c"/><path d="M353.2,114.3L379.7,109.4L379.7,108.9L353.1,113.8Z" fill="#90910c"/><path d="M379.6,109.4L397.3,106.1L397.3,105.6L379.5,108.9Z" fill="#90910c"/><path d="M210.2,241.7L212.5,199L212.5,195.1L210.2,241.5Z" fill="#190f46"/><path d="M212.4,199L214.7,173.6L214.7,170.7L212.4,195.1Z" fill="#004d53"/><path d="M214.6,173.6L216.9,162.3L216.9,160.1L214.6,170.7Z" fill="#3a5522"/><path d="M216.8,162.3L219.1,155.7L219.1,154L216.8,160.1Z" fill="#605012"/><path d="M219,155.7L221.3,151.4L221.3,150L219,154Z" fill="#6e5815"/><path d="M221.2,151.4L223.5,148.3L223.5,147L221.2,150Z" fill="#6c6311"/><path d="M223.4,148.3L225.7,145.8L225.7,144.7L223.4,147Z" fill="#6d680f"/><path d="M225.6,145.8L227.8,143.8L230.1,142.1L230.1,141.2L227.8,142.8L225.6,144.7Z" fill="#716f0c"/><path d="M230,142.1L234.5,139.3L234.5,138.6L230,141.2Z" fill="#757609"/><path d="M234.4,139.3L238.9,137L238.9,136.3L234.4,138.6Z" fill="#78790a"/><path d="M238.8,137L243.3,135L243.3,134.4L238.8,136.3Z" fill="#7b7c0a"/><path d="M243.2,135L247.7,133.2L247.7,132.7L243.2,134.4Z" fill="#7e7f0a"/><path d="M247.6,133.2L252.1,131.7L252.1,131.2L247.6,132.7Z" fill="#81820a"/><path d="M252,131.7L256.5,130.3L256.5,129.8L252,131.2Z" fill="#85860b"/><path d="M256.4,130.3L260.9,129.1L260.9,128.7L256.4,129.8Z" fill="#88890b"/><path d="M260.8,129.1L265.3,128.1L265.3,127.7L260.8,128.7Z" fill="#8b8c0b"/><path d="M265.2,128.1L269.7,127.3L269.7,126.8L265.2,127.7Z" fill="#8e8f0c"/><path d="M269.6,127.3L274.1,126.5L274.1,126.1L269.6,126.8Z" fill="#90910c"/><path d="M274,126.5L300.5,123.2L300.5,122.8L274,126.1Z" fill="#90910c"/><path d="M300.4,123.2L311.3,121.6L326.9,118.9L326.9,118.5L311.3,121.1L300.3,122.8Z" fill="#90910c"/><path d="M326.7,118.9L353.3,114L353.2,113.6L326.7,118.5Z" fill="#90910c"/><path d="M353.1,114L379.7,109.1L379.6,108.6L353.1,113.6Z" fill="#90910c"/><path d="M379.5,109.1L397.3,105.8L397.2,105.3L379.5,108.6Z" fill="#90910c"/><path d="M210.2,241.7L212.5,195.3L212.5,191.6L210.2,241.5Z" fill="#190f46"/><path d="M212.4,195.3L214.7,170.9L214.7,168.4L212.4,191.6Z" fill="#084f4c"/><path d="M214.6,170.9L216.9,160.3L216.9,158.4L214.6,168.4Z" fill="#44541b"/><path d="M216.8,160.3L219.1,154.2L219.1,152.7L216.8,158.4Z" fill="#684f18"/><path d="M219,154.2L221.3,150.2L221.3,148.9L219,152.7Z" fill="#6c5d13"/><path d="M221.2,150.2L223.5,147.2L223.5,146.1L221.2,148.9Z" fill="#6c6510"/><path d="M223.4,147.2L225.7,144.9L225.7,144L223.4,146.1Z" fill="#6d6a0e"/><path d="M225.6,144.9L227.8,143L230.1,141.4L230.1,140.6L227.8,142.2L225.6,144Z" fill="#71710b"/><path d="M230,141.4L234.5,138.8L234.5,138.1L230,140.6Z" fill="#757609"/><path d="M234.4,138.8L238.9,136.5L238.9,135.9L234.4,138.1Z" fill="#78790a"/><path d="M238.8,136.5L243.3,134.6L243.3,134.1L238.8,135.9Z" fill="#7b7c0a"/><path d="M243.2,134.6L247.7,132.9L247.7,132.4L243.2,134.1Z" fill="#7e7f0a"/><path d="M247.6,132.9L252.1,131.4L252.1,130.9L247.6,132.4Z" fill="#81820a"/><path d="M252,131.4L256.5,130L256.5,129.6L252,130.9Z" fill="#85860b"/><path d="M256.4,130L260.9,128.9L260.9,128.4L256.4,129.6Z" fill="#88890b"/><path d="M260.8,128.9L265.3,127.9L265.3,127.4L260.7,128.4Z" fill="#8b8c0b"/><path d="M265.2,127.9L269.7,127L269.7,126.6L265.1,127.4Z" fill="#8e8f0c"/><path d="M269.6,127L274.1,126.3L274.1,125.9L269.5,126.6Z" fill="#90910c"/><path d="M274,126.3L300.5,123L300.5,122.6L273.9,125.9Z" fill="#90910c"/><path d="M300.3,123L311.3,121.3L326.9,118.7L326.8,118.3L311.3,120.9L300.3,122.6Z" fill="#90910c"/><path d="M326.7,118.7L353.2,113.8L353.2,113.3L326.7,118.3Z" fill="#90910c"/><path d="M353.1,113.8L379.6,108.8L379.6,108.3L353,113.3Z" fill="#90910c"/><path d="M379.5,108.8L397.2,105.5L397.1,105L379.4,108.3Z" fill="#90910c"/><path d="M210.2,241.7L212.5,191.8L212.5,188.5L210.2,241.5Z" fill="#190f46"/><path d="M212.4,191.8L214.7,168.6L214.7,166.3L212.4,188.5Z" fill="#115146"/><path d="M214.6,168.6L216.9,158.6L216.9,156.8L214.6,166.3Z" fill="#4c5315"/><path d="M216.8,158.6L219.1,152.9L219.1,151.5L216.8,156.8Z" fill="#6c5119"/><path d="M219,152.9L221.3,149.1L221.3,147.9L219,151.5Z" fill="#6b6011"/><path d="M221.2,149.1L223.5,146.3L223.5,145.3L221.2,147.9Z" fill="#6c670f"/><path d="M223.4,146.3L225.6,144.2L227.9,142.4L227.9,141.6L225.6,143.3L223.4,145.3Z" fill="#6f6e0c"/><path d="M227.8,142.4L232.3,139.5L232.3,138.8L227.8,141.6Z" fill="#737409"/><path d="M232.2,139.5L236.7,137.2L236.7,136.6L232.2,138.8Z" fill="#76770a"/><path d="M236.6,137.2L241.1,135.2L241.1,134.7L236.6,136.6Z" fill="#797a0a"/><path d="M241,135.2L245.5,133.4L245.5,132.9L241,134.7Z" fill="#7d7e0a"/><path d="M245.4,133.4L249.9,131.8L249.9,131.4L245.4,132.9Z" fill="#80810a"/><path d="M249.8,131.8L254.3,130.4L254.3,130L249.7,131.4Z" fill="#83840b"/><path d="M254.2,130.4L258.7,129.2L258.7,128.8L254.1,130Z" fill="#86870b"/><path d="M258.5,129.2L263.1,128.1L263.1,127.7L258.5,128.8Z" fill="#898a0b"/><path d="M262.9,128.1L267.5,127.2L267.5,126.8L262.9,127.7Z" fill="#8d8e0b"/><path d="M267.3,127.2L271.9,126.4L271.9,126.1L267.3,126.8Z" fill="#90910c"/><path d="M271.7,126.4L276.3,125.8L276.3,125.4L271.7,126.1Z" fill="#90910c"/><path d="M276.1,125.8L302.7,122.5L302.6,122.1L276.1,125.4Z" fill="#90910c"/><path d="M302.5,122.5L313.5,120.8L329,118L329,117.7L313.5,120.4L302.5,122.1Z" fill="#90910c"/><path d="M328.9,118L355.4,113.1L355.3,112.7L328.8,117.7Z" fill="#90910c"/><path d="M355.2,113.1L381.8,108.1L381.7,107.7L355.2,112.7Z" fill="#90910c"/><path d="M381.6,108.1L397.1,105.2L397.1,104.8L381.6,107.7Z" fill="#90910c"/><path d="M210.2,241.7L212.5,188.7L212.5,185.6L210.2,241.5Z" fill="#190f46"/><path d="M212.4,188.7L214.7,166.5L214.7,164.4L212.4,185.6Z" fill="#155341"/><path d="M214.6,166.5L216.9,157L216.9,155.5L214.6,164.4Z" fill="#525112"/><path d="M216.8,157L219.1,151.7L219.1,150.4L216.8,155.5Z" fill="#6c5616"/><path d="M219,151.7L221.3,148.1L221.3,147.1L219,150.4Z" fill="#6a6210"/><path d="M221.2,148.1L223.5,145.5L223.5,144.6L221.2,147.1Z" fill="#6c680e"/><path d="M223.4,145.5L225.6,143.5L227.9,141.8L227.9,141L225.6,142.6L223.4,144.6Z" fill="#6f6f0b"/><path d="M227.8,141.8L232.3,139L232.3,138.4L227.8,141Z" fill="#737409"/><path d="M232.2,139L236.7,136.8L236.7,136.2L232.2,138.4Z" fill="#76770a"/><path d="M236.6,136.8L241.1,134.9L241.1,134.4L236.6,136.2Z" fill="#797a0a"/><path d="M241,134.9L245.5,133.1L245.5,132.7L240.9,134.4Z" fill="#7d7e0a"/><path d="M245.4,133.1L249.9,131.6L249.9,131.1L245.3,132.7Z" fill="#80810a"/><path d="M249.7,131.6L254.3,130.2L254.3,129.8L249.7,131.1Z" fill="#83840b"/><path d="M254.1,130.2L258.7,129L258.7,128.6L254.1,129.8Z" fill="#86870b"/><path d="M258.5,129L263.1,127.9L263.1,127.5L258.5,128.6Z" fill="#898a0b"/><path d="M262.9,127.9L267.5,127L267.5,126.6L262.9,127.5Z" fill="#8d8e0b"/><path d="M267.3,127L271.9,126.3L271.8,125.9L267.3,126.6Z" fill="#90910c"/><path d="M271.7,126.3L276.3,125.6L276.2,125.2L271.7,125.9Z" fill="#90910c"/><path d="M276.1,125.6L302.6,122.3L302.6,122L276.1,125.2Z" fill="#90910c"/><path d="M302.5,122.3L313.5,120.6L329,117.9L328.9,117.5L313.4,120.2L302.4,122Z" fill="#90910c"/><path d="M328.8,117.9L355.3,112.9L355.3,112.5L328.8,117.5Z" fill="#90910c"/><path d="M355.2,112.9L381.7,107.9L381.7,107.5L355.2,112.5Z" fill="#90910c"/><path d="M381.6,107.9L397.1,105L397,104.5L381.5,107.5Z" fill="#90910c"/><path d="M210.2,241.7L212.5,185.8L212.5,182.9L210.2,241.5Z" fill="#190f46"/><path d="M212.4,185.8L214.7,164.6L214.7,162.6L212.4,182.9Z" fill="#1b543a"/><path d="M214.6,164.6L216.9,155.7L216.9,154.2L214.6,162.6Z" fill="#595010"/><path d="M216.8,155.7L219.1,150.6L219.1,149.5L216.8,154.2Z" fill="#6b5a14"/><path d="M219,150.6L221.3,147.3L221.3,146.3L219,149.5Z" fill="#6a6410"/><path d="M221.2,147.3L223.5,144.8L223.5,143.9L221.2,146.3Z" fill="#6c6a0d"/><path d="M223.4,144.8L225.6,142.8L227.9,141.2L227.9,140.6L225.6,142.1L223.4,143.9Z" fill="#707009"/><path d="M227.8,141.2L232.3,138.6L232.3,138L227.8,140.6Z" fill="#737409"/><path d="M232.2,138.6L236.7,136.4L236.7,135.9L232.2,138Z" fill="#76770a"/><path d="M236.6,136.4L241.1,134.6L241.1,134.1L236.5,135.9Z" fill="#797a0a"/><path d="M240.9,134.6L245.5,132.9L245.5,132.4L240.9,134.1Z" fill="#7d7e0a"/><path d="M245.3,132.9L249.9,131.3L249.9,130.9L245.3,132.4Z" fill="#80810a"/><path d="M249.7,131.3L254.3,130L254.3,129.6L249.7,130.9Z" fill="#83840b"/><path d="M254.1,130L258.7,128.8L258.7,128.4L254.1,129.6Z" fill="#86870b"/><path d="M258.5,128.8L263.1,127.7L263,127.4L258.5,128.4Z" fill="#898a0b"/><path d="M262.9,127.7L267.5,126.8L267.4,126.5L262.9,127.4Z" fill="#8d8e0b"/><path d="M267.3,126.8L271.8,126.1L271.8,125.7L267.3,126.5Z" fill="#90910c"/><path d="M271.7,126.1L276.2,125.4L276.2,125.1L271.7,125.7Z" fill="#90910c"/><path d="M276.1,125.4L302.6,122.2L302.6,121.8L276.1,125.1Z" fill="#90910c"/><path d="M302.4,122.2L313.4,120.4L328.9,117.7L328.9,117.3L313.4,120.1L302.4,121.8Z" fill="#90910c"/><path d="M328.8,117.7L355.3,112.7L355.3,112.3L328.8,117.3Z" fill="#90910c"/><path d="M355.2,112.7L381.7,107.7L381.6,107.3L355.1,112.3Z" fill="#90910c"/><path d="M381.5,107.7L397,104.7L397,104.3L381.5,107.3Z" fill="#90910c"/><path d="M210.2,241.7L212.5,183.1L212.5,180.4L210.2,241.5Z" fill="#190f46"/><path d="M212.4,183.1L214.7,162.8L214.7,161L212.4,180.4Z" fill="#225534"/><path d="M214.6,162.8L216.9,154.4L216.9,153.1L214.6,161Z" fill="#614f13"/><path d="M216.8,154.4L219.1,149.7L219.1,148.6L216.8,153.1Z" fill="#6a5d12"/><path d="M219,149.7L221.3,146.5L221.3,145.6L219,148.6Z" fill="#6a650f"/><path d="M221.2,146.5L223.5,144.1L223.5,143.4L221.2,145.6Z" fill="#6d6b0c"/><path d="M223.4,144.1L225.6,142.3L227.9,140.8L227.9,140.1L225.6,141.6L223.4,143.4Z" fill="#707109"/><path d="M227.8,140.8L232.3,138.2L232.3,137.7L227.8,140.1Z" fill="#737409"/><path d="M232.2,138.2L236.7,136.1L236.7,135.7L232.1,137.7Z" fill="#76770a"/><path d="M236.5,136.1L241.1,134.3L241.1,133.9L236.5,135.7Z" fill="#797a0a"/><path d="M240.9,134.3L245.5,132.6L245.5,132.3L240.9,133.9Z" fill="#7d7e0a"/><path d="M245.3,132.6L249.9,131.1L249.9,130.8L245.3,132.3Z" fill="#80810a"/><path d="M249.7,131.1L254.3,129.8L254.2,129.4L249.7,130.8Z" fill="#83840b"/><path d="M254.1,129.8L258.7,128.6L258.6,128.3L254.1,129.4Z" fill="#86870b"/><path d="M258.5,128.6L263,127.6L263,127.2L258.5,128.3Z" fill="#898a0b"/><path d="M262.9,127.6L267.4,126.7L267.4,126.4L262.9,127.2Z" fill="#8d8e0b"/><path d="M267.3,126.7L271.8,125.9L271.8,125.6L267.3,126.4Z" fill="#90910c"/><path d="M271.7,125.9L276.2,125.3L276.2,125L271.7,125.6Z" fill="#90910c"/><path d="M276.1,125.3L302.6,122L302.5,121.7L276,125Z" fill="#90910c"/><path d="M302.4,122L313.4,120.3L328.9,117.5L328.9,117.2L313.4,120L302.4,121.7Z" fill="#90910c"/><path d="M328.8,117.5L355.3,112.5L355.2,112.2L328.7,117.2Z" fill="#90910c"/><path d="M355.1,112.5L381.6,107.5L381.5,107.1L355.1,112.2Z" fill="#90910c"/><path d="M381.5,107.5L397,104.5L396.9,104.2L381.4,107.1Z" fill="#90910c"/><path d="M210.2,241.7L212.5,180.6L212.5,178L210.2,241.5Z" fill="#190f46"/><path d="M212.4,180.6L214.7,161.2L214.7,159.6L212.4,178Z" fill="#2a552d"/><path d="M214.6,161.2L216.9,153.3L216.9,152.1L214.6,159.6Z" fill="#674e18"/><path d="M216.8,153.3L219.1,148.8L219.1,147.8L216.8,152.1Z" fill="#695f11"/><path d="M219,148.8L221.3,145.8L221.3,145L219,147.8Z" fill="#6a670e"/><path d="M221.2,145.8L223.4,143.6L225.7,141.8L225.7,141.2L223.4,142.9L221.2,145Z" fill="#6e6e0a"/><path d="M225.6,141.8L230.1,139.1L230.1,138.5L225.6,141.2Z" fill="#717209"/><path d="M230,139.1L234.5,136.9L234.5,136.4L229.9,138.5Z" fill="#757609"/><path d="M234.3,136.9L238.9,135L238.9,134.5L234.3,136.4Z" fill="#78790a"/><path d="M238.7,135L243.3,133.2L243.3,132.9L238.7,134.5Z" fill="#7b7c0a"/><path d="M243.1,133.2L247.7,131.7L247.6,131.3L243.1,132.9Z" fill="#7e7f0a"/><path d="M247.5,131.7L252.1,130.3L252,129.9L247.5,131.3Z" fill="#81820a"/><path d="M251.9,130.3L256.4,129L256.4,128.7L251.9,129.9Z" fill="#85860b"/><path d="M256.3,129L260.8,127.9L260.8,127.6L256.3,128.7Z" fill="#88890b"/><path d="M260.7,127.9L265.2,127L265.2,126.6L260.7,127.6Z" fill="#8b8c0b"/><path d="M265.1,127L269.6,126.2L269.6,125.8L265,126.6Z" fill="#8e8f0c"/><path d="M269.5,126.2L274,125.5L274,125.2L269.4,125.8Z" fill="#90910c"/><path d="M273.8,125.5L300.3,122.2L300.3,121.9L273.8,125.2Z" fill="#90910c"/><path d="M300.2,122.2L311.2,120.5L326.7,117.8L326.6,117.5L311.1,120.2L300.2,121.9Z" fill="#90910c"/><path d="M326.5,117.8L353,112.8L353,112.5L326.5,117.5Z" fill="#90910c"/><path d="M352.9,112.8L379.3,107.8L379.3,107.4L352.8,112.5Z" fill="#90910c"/><path d="M379.2,107.8L396.9,104.4L396.8,104L379.1,107.4Z" fill="#90910c"/><path d="M210.2,241.7L212.5,178.2L212.5,175.9L210.2,241.5Z" fill="#190f46"/><path d="M212.4,178.2L214.7,159.8L214.7,158.3L212.4,175.9Z" fill="#325527"/><path d="M214.6,159.8L216.9,152.3L216.9,151.1L214.6,158.3Z" fill="#6b5019"/><path d="M216.8,152.3L219.1,148L219.1,147.1L216.8,151.1Z" fill="#696110"/><path d="M219,148L221.3,145.2L221.3,144.4L219,147.1Z" fill="#6b680d"/><path d="M221.2,145.2L223.4,143.1L225.7,141.4L225.7,140.8L223.4,142.4L221.2,144.4Z" fill="#6e6f09"/><path d="M225.6,141.4L230.1,138.7L230.1,138.2L225.6,140.8Z" fill="#717209"/><path d="M229.9,138.7L234.5,136.6L234.5,136.1L229.9,138.2Z" fill="#757609"/><path d="M234.3,136.6L238.9,134.7L238.9,134.3L234.3,136.1Z" fill="#78790a"/><path d="M238.7,134.7L243.3,133.1L243.2,132.7L238.7,134.3Z" fill="#7b7c0a"/><path d="M243.1,133.1L247.6,131.5L247.6,131.2L243.1,132.7Z" fill="#7e7f0a"/><path d="M247.5,131.5L252,130.1L252,129.8L247.5,131.2Z" fill="#81820a"/><path d="M251.9,130.1L256.4,128.9L256.4,128.6L251.9,129.8Z" fill="#85860b"/><path d="M256.3,128.9L260.8,127.8L260.8,127.5L256.3,128.6Z" fill="#88890b"/><path d="M260.7,127.8L265.2,126.8L265.2,126.5L260.6,127.5Z" fill="#8b8c0b"/><path d="M265,126.8L269.6,126L269.6,125.7L265,126.5Z" fill="#8e8f0c"/><path d="M269.4,126L274,125.4L274,125.1L269.4,125.7Z" fill="#90910c"/><path d="M273.8,125.4L300.3,122.1L300.3,121.8L273.8,125.1Z" fill="#90910c"/><path d="M300.2,122.1L311.1,120.4L326.6,117.7L326.6,117.4L311.1,120.1L300.1,121.8Z" fill="#90910c"/><path d="M326.5,117.7L353,112.7L352.9,112.3L326.4,117.4Z" fill="#90910c"/><path d="M352.8,112.7L379.3,107.6L379.2,107.3L352.8,112.3Z" fill="#90910c"/><path d="M379.1,107.6L396.8,104.2L396.8,103.9L379.1,107.3Z" fill="#90910c"/>
<path d="M246.6,234.4L247.7,233.7" fill="none" stroke="#000" stroke-width="0.75"/>
<path d="M247.7,233.7L252.1,226.2" fill="none" stroke="#000" stroke-width="1.31" stroke-dasharray="3.4 1.2"/>
<path d="M252.1,226.2L254.3,222.7L257.6,218L259.8,215.2L263.1,211.2L265.3,208.8L268.6,205.5L271.9,202.6L275.2,200" fill="none" stroke="#000" stroke-width="1.01" stroke-dasharray="2.6 0.9"/>
<path d="M275.2,200L279.7,196.9L281.9,195.5L285.2,193.6L290.7,190.9L296.2,188.6L302.8,186.2L309.4,184.2L317.1,182.2L324.9,180.5L334.8,178.6L344.7,176.8L352.4,175.8L360.1,175L369,174.4L378.9,174L387.7,174L397.6,174.2" fill="none" stroke="#000" stroke-width="0.75"/>
<path d="M228.9,237.8L230,237.2" fill="none" stroke="#000" stroke-width="0.75"/>
<path d="M230,237.2L232.2,230.6L234.5,224.4L236.7,218.7L238.9,213.3L241.1,208.3L243.3,203.7L245.5,199.6L247.7,195.9" fill="none" stroke="#000" stroke-width="1.31" stroke-dasharray="3.4 1.2"/>
<path d="M247.7,195.9L249.9,192.6L252.1,189.5L254.3,186.7L256.5,184.1L258.7,181.8L260.9,179.7L263.1,177.8L265.3,176" fill="none" stroke="#000" stroke-width="1.01" stroke-dasharray="2.6 0.9"/>
<path d="M265.3,176L268.6,173.8L271.9,171.8L275.2,170.2L278.6,168.8L281.9,167.6L286.3,166.3L290.7,165.2L296.2,164L308.3,161.8L324.9,159.3L339.2,157.4L377.8,152.3L397.6,149.6" fill="none" stroke="#000" stroke-width="0.75"/>
<path d="M221.2,239.3L222.3,237.4L224.5,228L226.7,219.6L228.9,212.1L231.1,205.4L233.3,199.6L236.7,192L238.9,187.6L242.2,181.7" fill="none" stroke="#000" stroke-width="1.31" stroke-dasharray="3.4 1.2"/>
<path d="M242.2,181.7L245.5,176.7L247.7,173.8L249.9,171.1L252.1,168.7L254.3,166.5L256.5,164.5L258.7,162.7" fill="none" stroke="#000" stroke-width="1.01" stroke-dasharray="2.6 0.9"/>
<path d="M258.7,162.7L260.9,161.1L264.2,159L267.5,157.2L270.8,155.7L274.1,154.4L278.5,153L283,151.9L287.4,151L296.2,149.5L310.5,147.5L331.5,144.6L373.3,139.2L397.6,135.9" fill="none" stroke="#000" stroke-width="0.75"/>
<path d="M217.9,240L219,237.1L221.2,225.1L223.4,215L225.6,206.4L227.8,199.1L230,192.8L231.1,189.9L233.3,184.8L235.6,180.2L238.9,174.3" fill="none" stroke="#000" stroke-width="1.31" stroke-dasharray="3.4 1.2"/>
<path d="M238.9,174.3L242.2,169.4L244.4,166.5L246.6,163.9L248.8,161.5L251,159.4L253.2,157.5L255.4,155.7" fill="none" stroke="#000" stroke-width="1.01" stroke-dasharray="2.6 0.9"/>
<path d="M255.4,155.7L257.6,154.2L260.9,152.1L264.2,150.3L267.5,148.9L270.8,147.6L274.1,146.6L278.5,145.4L282.9,144.5L288.5,143.5L295.1,142.5L368.9,132.5L397.6,128.3" fill="none" stroke="#000" stroke-width="0.75"/>
<path d="M215.7,240.4L216.8,237L217.9,229.1L219,222.1L221.2,210.3L222.3,205.3L224.5,196.7L226.7,189.5L227.8,186.4L230,180.8L231.1,178.3L233.3,173.8L234.4,171.8L236.7,168.1" fill="none" stroke="#000" stroke-width="1.31" stroke-dasharray="3.4 1.2"/>
<path d="M236.7,168.1L240,163.3L243.3,159.3L245.5,157L247.7,154.9L249.9,153L252.1,151.3" fill="none" stroke="#000" stroke-width="1.01" stroke-dasharray="2.6 0.9"/>
<path d="M252.1,151.3L254.3,149.7L257.6,147.7L260.9,145.9L264.2,144.4L267.5,143.1L271.9,141.7L275.2,140.9L279.6,139.9L288.5,138.5L323.7,133.6L370,127L397.6,122.8" fill="none" stroke="#000" stroke-width="0.75"/>
<path d="M214.6,240.6L215.7,233.9L216.8,224.7L217.9,216.8L219,209.9L220.1,204L221.2,198.8L222.3,194.2L224.5,186.3L226.7,179.9L227.8,177.1L230,172.1L231.1,169.9L233.3,166" fill="none" stroke="#000" stroke-width="1.31" stroke-dasharray="3.4 1.2"/>
<path d="M233.3,166L234.4,164.2L236.6,161L240,156.9L242.2,154.5L244.4,152.4L246.6,150.5L248.8,148.7" fill="none" stroke="#000" stroke-width="1.01" stroke-dasharray="2.6 0.9"/>
<path d="M248.8,148.7L251,147.2L254.3,145.1L257.6,143.3L260.9,141.7L264.2,140.4L268.6,139L271.9,138L276.3,137L280.7,136.2L286.2,135.4L308.3,132.4L324.8,130L370,123.2L397.5,118.9" fill="none" stroke="#000" stroke-width="0.75"/>
<path d="M213.5,240.9L214.6,234.4L215.7,223.3L216.8,214.2L217.9,206.6L219,200.2L220.1,194.6L221.2,189.8L222.3,185.5L223.4,181.7L225.6,175.3L226.7,172.6L228.9,167.8L230,165.7L232.2,161.9" fill="none" stroke="#000" stroke-width="1.31" stroke-dasharray="3.4 1.2"/>
<path d="M232.2,161.9L233.3,160.3L235.5,157.3L238.8,153.4L242.2,150.2L244.4,148.3L246.6,146.6" fill="none" stroke="#000" stroke-width="1.01" stroke-dasharray="2.6 0.9"/>
<path d="M246.6,146.6L249.9,144.4L253.2,142.4L256.5,140.7L259.8,139.2L263.1,138L267.5,136.6L270.8,135.7L275.2,134.7L284,133.3L306.1,130.4L321.5,128.1L367.8,120.8L397.5,116" fill="none" stroke="#000" stroke-width="0.75"/>
<path d="M212.4,241.1L213.5,238.9L214.6,225L215.7,214.1L216.8,205.3L217.9,198.1L219,192L220.1,186.9L221.2,182.4L222.3,178.5L223.4,175.1L224.5,172L226.7,166.8L227.8,164.6L230,160.7" fill="none" stroke="#000" stroke-width="1.31" stroke-dasharray="3.4 1.2"/>
<path d="M230,160.7L232.2,157.4L233.3,155.9L235.5,153.3L238.8,149.8L241,147.9L243.3,146.1" fill="none" stroke="#000" stroke-width="1.01" stroke-dasharray="2.6 0.9"/>
<path d="M243.3,146.1L246.6,143.7L249.9,141.7L253.2,139.9L256.5,138.4L259.8,137L264.2,135.5L268.6,134.3L273,133.3L277.4,132.4L281.8,131.8L303.8,128.9L319.3,126.6L364.4,119.3L397.5,113.8" fill="none" stroke="#000" stroke-width="0.75"/>
<path d="M212.4,241.1L213.5,230.6L214.6,216.7L215.7,206.1L216.8,197.7L217.9,190.9L219,185.2L220.1,180.4L221.2,176.4L222.3,172.8L223.4,169.7L225.6,164.5L226.7,162.3L228.9,158.5" fill="none" stroke="#000" stroke-width="1.31" stroke-dasharray="3.4 1.2"/>
<path d="M228.9,158.5L231.1,155.3L232.2,153.8L234.4,151.3L237.7,148L241,145.3" fill="none" stroke="#000" stroke-width="1.01" stroke-dasharray="2.6 0.9"/>
<path d="M241,145.3L244.3,142.9L247.7,140.9L251,139.1L254.3,137.5L257.6,136.1L262,134.6L266.4,133.3L270.8,132.2L275.2,131.4L280.7,130.5L303.8,127.5L319.3,125.2L362.2,118.1L397.5,112.1" fill="none" stroke="#000" stroke-width="0.75"/>
<path d="M212.4,241.1L213.5,222.9L214.6,209.3L215.7,199.1L216.8,191.1L217.9,184.7L219,179.5L220.1,175.1L221.2,171.4L222.3,168.1L223.4,165.3L224.5,162.8L225.6,160.6L227.8,156.8" fill="none" stroke="#000" stroke-width="1.31" stroke-dasharray="3.4 1.2"/>
<path d="M227.8,156.8L230,153.7L231.1,152.3L233.3,149.8L236.6,146.7L239.9,144" fill="none" stroke="#000" stroke-width="1.01" stroke-dasharray="2.6 0.9"/>
<path d="M239.9,144L243.2,141.7L246.5,139.8L249.9,138L253.2,136.5L256.5,135.2L260.9,133.6L265.3,132.4L269.7,131.3L274.1,130.5L279.6,129.6L302.7,126.6L318.1,124.3L356.7,117.8L397.4,110.7" fill="none" stroke="#000" stroke-width="0.75"/>
<path d="M211.3,241.3L212.4,235.2L213.5,216L214.6,202.7L215.7,193L216.8,185.5L217.9,179.5L219,174.7L220.1,170.6L221.2,167.2L222.3,164.3L223.4,161.7L224.5,159.4L226.7,155.6" fill="none" stroke="#000" stroke-width="1.31" stroke-dasharray="3.4 1.2"/>
<path d="M226.7,155.6L228.9,152.5L231.1,149.9L234.4,146.6L237.7,143.9" fill="none" stroke="#000" stroke-width="1.01" stroke-dasharray="2.6 0.9"/>
<path d="M237.7,143.9L241,141.6L244.3,139.6L247.6,137.8L252,135.8L255.3,134.5L259.8,132.9L264.2,131.7L268.6,130.6L273,129.7L278.5,128.9L302.7,125.8L318.1,123.4L351.2,117.7L397.4,109.6" fill="none" stroke="#000" stroke-width="0.75"/>
<path d="M211.3,241.3L212.4,228.7L213.5,209.7L214.6,196.9L215.7,187.7L216.8,180.6L217.9,175.1L219,170.6L220.1,166.9L221.2,163.7L222.3,161L223.4,158.7L225.6,154.8" fill="none" stroke="#000" stroke-width="1.31" stroke-dasharray="3.4 1.2"/>
<path d="M225.6,154.8L227.8,151.7L230,149.1L233.3,145.8L236.6,143.2" fill="none" stroke="#000" stroke-width="1.01" stroke-dasharray="2.6 0.9"/>
<path d="M236.6,143.2L239.9,140.9L243.2,139L246.5,137.2L250.9,135.2L254.2,133.9L258.6,132.4L263,131.1L267.5,130.1L271.9,129.2L277.4,128.3L301.6,125.2L317,122.9L343.4,118.3L397.4,108.7" fill="none" stroke="#000" stroke-width="0.75"/>
<path d="M211.3,241.3L213.5,204.1L214.6,191.8L215.7,183L216.8,176.4L217.9,171.2L219,167.1L220.1,163.7L221.2,160.8L222.3,158.3L223.4,156.2L224.5,154.3" fill="none" stroke="#000" stroke-width="1.31" stroke-dasharray="3.4 1.2"/>
<path d="M224.5,154.3L226.7,151.1L228.9,148.5L231.1,146.3L234.4,143.5" fill="none" stroke="#000" stroke-width="1.01" stroke-dasharray="2.6 0.9"/>
<path d="M234.4,143.5L237.7,141.2L241,139.2L244.3,137.4L248.7,135.3L253.1,133.6L257.5,132L261.9,130.7L266.3,129.7L271.8,128.6L277.3,127.7L301.6,124.6L317,122.3L341.2,118.1L397.3,107.9" fill="none" stroke="#000" stroke-width="0.75"/>
<path d="M211.3,241.3L212.4,217.1L213.5,199L214.6,187.2L215.7,178.9L216.8,172.7L217.9,167.9L219,164.1L220.1,160.9L221.2,158.3L222.3,156L223.4,154" fill="none" stroke="#000" stroke-width="1.31" stroke-dasharray="3.4 1.2"/>
<path d="M223.4,154L225.6,150.7L227.8,148.1L230,145.9L233.3,143.1" fill="none" stroke="#000" stroke-width="1.01" stroke-dasharray="2.6 0.9"/>
<path d="M233.3,143.1L236.6,140.8L239.9,138.8L243.2,137.1L247.6,135.1L252,133.3L256.4,131.8L260.8,130.5L266.3,129.1L270.7,128.3L276.2,127.4L301.5,124.2L317,121.8L340.1,117.7L397.3,107.3" fill="none" stroke="#000" stroke-width="0.75"/>
<path d="M211.3,241.3L212.4,211.9L213.5,194.4L214.6,183.1L215.7,175.3L216.8,169.5L217.9,165.1L219,161.5L220.1,158.6L221.2,156.1L222.3,154L223.4,152.2" fill="none" stroke="#000" stroke-width="1.31" stroke-dasharray="3.4 1.2"/>
<path d="M223.4,152.2L225.6,149.2L227.8,146.7L230,144.6L232.2,142.9" fill="none" stroke="#000" stroke-width="1.01" stroke-dasharray="2.6 0.9"/>
<path d="M232.2,142.9L235.5,140.6L238.8,138.6L242.1,136.9L246.5,134.9L250.9,133.1L255.3,131.6L259.7,130.3L265.2,128.9L270.7,127.8L276.2,126.9L300.4,123.9L308.1,122.8L316.9,121.4L338.9,117.5L397.2,106.8" fill="none" stroke="#000" stroke-width="0.75"/>
<path d="M210.2,241.5L211.3,238.9L212.4,207.2L213.5,190.2L214.6,179.5L215.7,172.1L216.8,166.7L217.9,162.6L219,159.2L220.1,156.5L221.2,154.3L222.3,152.3" fill="none" stroke="#000" stroke-width="1.31" stroke-dasharray="3.4 1.2"/>
<path d="M222.3,152.3L223.4,150.6L225.6,147.8L227.8,145.5L231.1,142.7" fill="none" stroke="#000" stroke-width="1.01" stroke-dasharray="2.6 0.9"/>
<path d="M231.1,142.7L234.4,140.5L237.7,138.5L242.1,136.3L246.5,134.3L250.9,132.6L255.3,131.2L259.7,129.9L265.2,128.5L270.7,127.5L276.2,126.6L300.4,123.6L308.1,122.5L315.8,121.2L337.8,117.3L397.2,106.3" fill="none" stroke="#000" stroke-width="0.75"/>
<path d="M210.2,241.5L211.3,234.2L212.4,202.8L213.5,186.4L214.6,176.3L215.7,169.3L216.8,164.2L217.9,160.4L219,157.3L220.1,154.8L221.2,152.6L222.3,150.8" fill="none" stroke="#000" stroke-width="1.31" stroke-dasharray="3.4 1.2"/>
<path d="M222.3,150.8L223.4,149.3L225.6,146.6L227.8,144.5L230,142.7" fill="none" stroke="#000" stroke-width="1.01" stroke-dasharray="2.6 0.9"/>
<path d="M230,142.7L233.3,140.4L236.6,138.5L241,136.3L245.4,134.3L249.8,132.6L254.2,131.1L258.6,129.8L264.1,128.4L269.6,127.3L275.1,126.4L300.4,123.3L308.1,122.2L315.8,120.9L337.8,117L397.2,105.9" fill="none" stroke="#000" stroke-width="0.75"/>
<path d="M210.2,241.5L211.3,229.8L212.4,198.8L213.5,183L214.6,173.4L215.7,166.8L216.8,162.1L217.9,158.4L219,155.5L220.1,153.2L221.2,151.2" fill="none" stroke="#000" stroke-width="1.31" stroke-dasharray="3.4 1.2"/>
<path d="M221.2,151.2L222.3,149.5L224.5,146.8L226.7,144.6L228.9,142.7" fill="none" stroke="#000" stroke-width="1.01" stroke-dasharray="2.6 0.9"/>
<path d="M228.9,142.7L232.2,140.4L235.5,138.5L239.9,136.3L244.3,134.3L248.7,132.6L254.2,130.8L258.6,129.5L264.1,128.1L269.6,127.1L275.1,126.2L300.4,123L308.1,121.9L315.7,120.6L336.6,116.9L397.1,105.6" fill="none" stroke="#000" stroke-width="0.75"/>
<path d="M210.2,241.5L211.3,225.5L212.4,195.1L213.5,179.9L214.6,170.7L215.7,164.6L216.8,160.1L217.9,156.7L219,154L220.1,151.8L221.2,150" fill="none" stroke="#000" stroke-width="1.31" stroke-dasharray="3.4 1.2"/>
<path d="M221.2,150L222.3,148.4L224.5,145.8L226.7,143.7L228.9,142" fill="none" stroke="#000" stroke-width="1.01" stroke-dasharray="2.6 0.9"/>
<path d="M228.9,142L232.2,139.8L235.5,138L239.9,135.8L244.3,134L248.7,132.3L254.2,130.5L258.6,129.2L264.1,127.9L269.6,126.8L275,125.9L300.3,122.8L308,121.7L315.7,120.4L336.6,116.6L397.1,105.3" fill="none" stroke="#000" stroke-width="0.75"/>
<path d="M210.2,241.5L211.3,221.5L212.4,191.6L213.5,177.1L214.6,168.4L215.7,162.6L216.8,158.4L217.9,155.2L219,152.7L220.1,150.6" fill="none" stroke="#000" stroke-width="1.31" stroke-dasharray="3.4 1.2"/>
<path d="M220.1,150.6L221.2,148.9L223.4,146.1L225.6,144L227.8,142.2" fill="none" stroke="#000" stroke-width="1.01" stroke-dasharray="2.6 0.9"/>
<path d="M227.8,142.2L231.1,139.9L234.4,138.1L238.8,135.9L243.2,134.1L247.6,132.4L253.1,130.5L257.4,129.3L262.9,127.9L268.4,126.8L273.9,125.9L299.2,122.7L306.9,121.6L315.7,120.2L336.6,116.4L397,105" fill="none" stroke="#000" stroke-width="0.75"/>
<path d="M210.2,241.5L211.3,217.6L212.4,188.5L213.5,174.5L214.6,166.3L215.7,160.8L216.8,156.8L217.9,153.9L219,151.5L220.1,149.5" fill="none" stroke="#000" stroke-width="1.31" stroke-dasharray="3.4 1.2"/>
<path d="M220.1,149.5L221.2,147.9L223.4,145.3L224.5,144.2L226.7,142.4" fill="none" stroke="#000" stroke-width="1.01" stroke-dasharray="2.6 0.9"/>
<path d="M226.7,142.4L230,140.1L233.3,138.2L237.7,136.1L242.1,134.2L246.4,132.5L251.9,130.7L257.4,129.1L262.9,127.7L268.4,126.6L273.9,125.7L299.2,122.6L306.9,121.5L315.7,120L336.5,116.2L396.9,104.8" fill="none" stroke="#000" stroke-width="0.75"/>
<path d="M210.2,241.5L212.4,185.6L213.5,172.2L214.6,164.4L215.7,159.2L216.8,155.5L217.9,152.6L219,150.4L220.1,148.6" fill="none" stroke="#000" stroke-width="1.31" stroke-dasharray="3.4 1.2"/>
<path d="M220.1,148.6L221.2,147.1L223.4,144.6L224.5,143.6L226.7,141.8" fill="none" stroke="#000" stroke-width="1.01" stroke-dasharray="2.6 0.9"/>
<path d="M226.7,141.8L230,139.6L233.3,137.8L237.7,135.8L242,133.9L247.5,131.9L253,130.1L257.4,128.9L262.9,127.5L268.4,126.4L273.9,125.6L299.1,122.4L306.8,121.3L315.6,119.9L336.5,116.1L396.9,104.5" fill="none" stroke="#000" stroke-width="0.75"/>
<path d="M210.2,241.5L211.3,210.5L212.4,182.9L213.5,170.1L214.6,162.6L215.7,157.7L216.8,154.2L217.9,151.6L219,149.5" fill="none" stroke="#000" stroke-width="1.31" stroke-dasharray="3.4 1.2"/>
<path d="M219,149.5L220.1,147.7L221.2,146.3L222.3,145L223.4,143.9L225.6,142.1" fill="none" stroke="#000" stroke-width="1.01" stroke-dasharray="2.6 0.9"/>
<path d="M225.6,142.1L228.9,139.9L232.2,138L236.5,135.9L240.9,134.1L246.4,132.1L251.9,130.3L257.4,128.7L262.9,127.4L268.4,126.3L273.9,125.4L299.1,122.3L306.8,121.2L315.6,119.7L336.4,115.9L396.8,104.3" fill="none" stroke="#000" stroke-width="0.75"/>
<path d="M210.2,241.5L211.3,207.3L212.4,180.4L213.5,168.1L214.6,161L215.7,156.4L216.8,153.1L217.9,150.6L219,148.6" fill="none" stroke="#000" stroke-width="1.31" stroke-dasharray="3.4 1.2"/>
<path d="M219,148.6L220.1,147L221.2,145.6L222.3,144.4L223.4,143.4L225.6,141.6" fill="none" stroke="#000" stroke-width="1.01" stroke-dasharray="2.6 0.9"/>
<path d="M225.6,141.6L228.9,139.5L232.1,137.7L236.5,135.7L240.9,133.9L246.4,131.9L251.9,130.1L257.4,128.5L262.9,127.2L268.4,126.2L273.8,125.3L299.1,122.2L306.8,121L315.5,119.6L336.4,115.8L396.8,104.2" fill="none" stroke="#000" stroke-width="0.75"/>
<path d="M210.2,241.5L211.3,204.2L212.4,178L213.5,166.3L214.6,159.6L215.7,155.2L216.8,152.1L217.9,149.7L219,147.8" fill="none" stroke="#000" stroke-width="1.31" stroke-dasharray="3.4 1.2"/>
<path d="M219,147.8L220.1,146.3L221.2,145L222.3,143.8L224.5,142" fill="none" stroke="#000" stroke-width="1.01" stroke-dasharray="2.6 0.9"/>
<path d="M224.5,142L227.8,139.8L231,138L235.4,135.9L239.8,134.1L245.3,132.1L250.8,130.3L256.3,128.7L261.8,127.3L267.2,126.2L273.8,125.2L299.1,122L306.7,120.9L315.5,119.5L336.4,115.6L396.7,104" fill="none" stroke="#000" stroke-width="0.75"/>
<path d="M210.2,241.5L211.3,201.3L212.4,175.9L213.5,164.7L214.6,158.3L215.7,154.1L216.8,151.1L217.9,148.9L219,147.1" fill="none" stroke="#000" stroke-width="1.31" stroke-dasharray="3.4 1.2"/>
<path d="M219,147.1L220.1,145.6L221.2,144.4L222.3,143.3L224.5,141.5" fill="none" stroke="#000" stroke-width="1.01" stroke-dasharray="2.6 0.9"/>
<path d="M224.5,141.5L227.7,139.4L231,137.7L235.4,135.7L239.8,133.9L245.3,131.9L250.8,130.1L256.3,128.6L261.7,127.2L267.2,126.1L272.7,125.2L279.3,124.3L299,121.9L306.7,120.8L315.5,119.4L336.3,115.5L396.6,103.9" fill="none" stroke="#000" stroke-width="0.75"/>
<path d="M212.4,241.1L212.4,175.9M214.6,240.6L214.6,158.3M221.2,239.3L221.2,144.4M225.6,238.5L225.6,140.8M230,237.2L229.9,138.2M238.9,213.3L238.7,134.3M247.7,195.9L247.5,131.2M249.9,192.6L249.7,130.5M263.1,177.8L262.8,127M274.1,170.7L273.8,125.1M287.4,166L287,123.4M296.2,164L295.7,122.4M324.9,159.3L324.2,117.8M329.3,158.7L328.6,117M333.7,158.1L333,116.1M335.9,157.8L335.2,115.7M340.3,157.2L339.6,114.9M351.3,155.8L350.6,112.8M357.9,154.9L357.1,111.5M360.1,154.7L359.3,111.1M362.3,154.4L361.5,110.7M369,153.5L368.1,109.4" fill="none" stroke="#000" stroke-opacity="0.65" stroke-width="1.1"/>
<path d="M216.8,240.2L216.8,151.1M241.1,208.3L240.9,133.5M243.3,203.7L243.1,132.7M256.5,184.1L256.3,128.6M258.7,181.8L258.4,128M260.9,179.7L260.6,127.5M271.9,171.8L271.6,125.4M300.6,163.2L300.1,121.8M309.4,161.7L308.9,120.5M313.8,161L313.3,119.7M342.5,156.9L341.8,114.5M353.5,155.5L352.8,112.3M366.7,153.8L365.9,109.8M393.2,150.2L392.2,104.7" fill="none" stroke="#000" stroke-opacity="0.62" stroke-width="1.1"/>
<path d="M219,239.8L219,147.1M236.7,218.7L236.5,135.2M278.6,168.8L278.2,124.5M283,167.3L282.6,123.9M302.8,162.8L302.3,121.5M316,160.6L315.5,119.4M320.4,160L319.9,118.6M331.5,158.4L330.8,116.5M344.7,156.6L344,114M349.1,156.1L348.4,113.2M355.7,155.2L354.9,111.9M371.2,153.2L370.3,109M373.4,152.9L372.5,108.5M386.6,151.1L385.7,106M397.6,149.6L396.6,103.9" fill="none" stroke="#000" stroke-opacity="0.68" stroke-width="1.1"/>
<path d="M223.4,238.9L223.4,142.4M234.5,224.4L234.3,136.1M245.5,199.6L245.3,131.9M252.1,189.5L251.9,129.8M254.3,186.7L254.1,129.2M265.3,176L265,126.5M285.2,166.6L284.8,123.7M289.6,165.4L289.2,123.2M291.8,164.9L291.3,122.9M294,164.4L293.5,122.6M298.4,163.6L297.9,122.1M311.6,161.3L311.1,120.1M318.2,160.3L317.7,119M322.7,159.7L322.1,118.2M327.1,159L326.4,117.4M338.1,157.5L337.4,115.3M380,152L379.1,107.3M382.2,151.7L381.3,106.8M391,150.5L390,105.1" fill="none" stroke="#000" stroke-opacity="0.75" stroke-width="1.1"/>
<path d="M227.8,238L227.7,139.4M232.2,230.6L232.1,137.1M267.5,174.5L267.2,126.1M269.7,173.1L269.4,125.7M276.3,169.7L276,124.8M280.8,168L280.4,124.2M305,162.4L304.5,121.1M307.2,162L306.7,120.8M346.9,156.4L346.2,113.6M364.5,154.1L363.7,110.2M375.6,152.6L374.7,108.1M377.8,152.3L376.9,107.7M384.4,151.4L383.5,106.4M388.8,150.8L387.8,105.6M395.4,149.9L394.4,104.3" fill="none" stroke="#000" stroke-opacity="0.55" stroke-width="1.1"/>
<path d="M230,237.6L230,237.2M238.9,235.9L238.9,213.3M247.7,233.7L247.7,195.9M249.9,229.8L249.9,192.6M263.1,211.2L263.1,177.8M274.1,200.8L274.1,170.7M287.4,192.5L287.4,166M296.2,188.6L296.2,164M324.9,180.5L324.9,159.3M329.3,179.6L329.3,158.7M333.7,178.8L333.7,158.1M335.9,178.4L335.9,157.8M340.3,177.6L340.3,157.2M351.3,175.9L351.3,155.8M357.9,175.2L357.9,154.9M360.1,175L360.1,154.7M362.3,174.8L362.3,154.4M369,174.4L369,153.5" fill="none" stroke="#000" stroke-opacity="0.42" stroke-width="1.1"/>
<path d="M232.3,237.2L232.2,230.6M267.5,206.6L267.5,174.5M269.7,204.5L269.7,173.1M276.4,199.2L276.3,169.7M280.8,196.2L280.8,168M305,185.5L305,162.4M307.2,184.8L307.2,162M346.9,176.5L346.9,156.4M364.6,174.6L364.5,154.1M375.6,174.1L375.6,152.6M377.8,174L377.8,152.3M384.4,173.9L384.4,151.4M388.8,174L388.8,150.8M395.4,174.1L395.4,149.9" fill="none" stroke="#000" stroke-opacity="0.36" stroke-width="1.1"/>
<path d="M234.5,236.8L234.5,224.4M245.5,234.6L245.5,199.6M252.1,226.2L252.1,189.5M254.3,222.7L254.3,186.7M265.3,208.8L265.3,176M285.2,193.6L285.2,166.6M289.6,191.4L289.6,165.4M291.8,190.4L291.8,164.9M294,189.4L294,164.4M298.4,187.7L298.4,163.6M311.6,183.6L311.6,161.3M318.2,182L318.2,160.3M322.7,181L322.7,159.7M327.1,180.1L327.1,159M338.1,178L338.1,157.5M380,174L380,152M382.2,173.9L382.2,151.7M391,174L391,150.5" fill="none" stroke="#000" stroke-opacity="0.49" stroke-width="1.1"/>
<path d="M236.7,236.3L236.7,218.7M278.6,197.6L278.6,168.8M283,194.9L283,167.3M302.8,186.2L302.8,162.8M316,182.5L316,160.6M320.5,181.5L320.4,160M331.5,179.2L331.5,158.4M344.7,176.8L344.7,156.6M349.1,176.2L349.1,156.1M355.7,175.4L355.7,155.2M371.2,174.2L371.2,153.2M373.4,174.2L373.4,152.9M386.6,173.9L386.6,151.1M397.6,174.2L397.6,149.6" fill="none" stroke="#000" stroke-opacity="0.44" stroke-width="1.1"/>
<path d="M241.1,235.5L241.1,208.3M243.3,235L243.3,203.7M256.5,219.6L256.5,184.1M258.7,216.6L258.7,181.8M260.9,213.8L260.9,179.7M271.9,202.6L271.9,171.8M300.6,186.9L300.6,163.2M309.4,184.2L309.4,161.7M313.8,183L313.8,161M342.5,177.2L342.5,156.9M353.5,175.7L353.5,155.5M366.8,174.5L366.7,153.8M393.2,174.1L393.2,150.2" fill="none" stroke="#000" stroke-opacity="0.4" stroke-width="1.1"/>
<path d="M247.7,234.2L247.7,233.7M249.9,233.7L249.9,229.8M263.1,231.1L263.1,211.2M274.2,229L274.1,200.8M287.4,226.4L287.4,192.5M296.2,224.7L296.2,188.6M324.9,219.1L324.9,180.5M329.3,218.2L329.3,179.6M333.7,217.3L333.7,178.8M335.9,216.9L335.9,178.4M340.3,216L340.3,177.6M351.3,213.9L351.3,175.9M357.9,212.6L357.9,175.2M360.2,212.2L360.1,175M362.4,211.7L362.3,174.8M369,210.4L369,174.4" fill="none" stroke="#000" stroke-opacity="0.25" stroke-width="1.1"/>
<path d="M252.1,233.3L252.1,226.2M254.3,232.9L254.3,222.7M265.3,230.7L265.3,208.8M285.2,226.8L285.2,193.6M289.6,226L289.6,191.4M291.8,225.5L291.8,190.4M294,225.1L294,189.4M298.4,224.2L298.4,187.7M311.6,221.7L311.6,183.6M318.3,220.4L318.2,182M322.7,219.5L322.7,181M327.1,218.6L327.1,180.1M338.1,216.5L338.1,178M380,208.3L380,174M382.2,207.8L382.2,173.9M391,206.1L391,174" fill="none" stroke="#000" stroke-opacity="0.29" stroke-width="1.1"/>
<path d="M256.5,232.4L256.5,219.6M258.7,232L258.7,216.6M260.9,231.6L260.9,213.8M271.9,229.4L271.9,202.6M300.6,223.8L300.6,186.9M309.4,222.1L309.4,184.2M313.8,221.2L313.8,183M342.5,215.6L342.5,177.2M353.5,213.5L353.5,175.7M366.8,210.9L366.8,174.5M393.2,205.7L393.2,174.1" fill="none" stroke="#000" stroke-opacity="0.24" stroke-width="1.1"/>
<path d="M267.5,230.3L267.5,206.6M269.7,229.9L269.7,204.5M276.4,228.6L276.4,199.2M280.8,227.7L280.8,196.2M305,222.9L305,185.5M307.2,222.5L307.2,184.8M346.9,214.8L346.9,176.5M364.6,211.3L364.6,174.6M375.6,209.1L375.6,174.1M377.8,208.7L377.8,174M384.4,207.4L384.4,173.9M388.8,206.6L388.8,174M395.4,205.3L395.4,174.1" fill="none" stroke="#000" stroke-opacity="0.21" stroke-width="1.1"/>
<path d="M278.6,228.1L278.6,197.6M283,227.3L283,194.9M302.8,223.4L302.8,186.2M316,220.8L316,182.5M320.5,219.9L320.5,181.5M331.5,217.8L331.5,179.2M344.7,215.2L344.7,176.8M349.1,214.3L349.1,176.2M355.7,213L355.7,175.4M371.2,210L371.2,174.2M373.4,209.6L373.4,174.2M386.6,207L386.6,173.9M397.6,204.8L397.6,174.2" fill="none" stroke="#000" stroke-opacity="0.26" stroke-width="1.1"/>
</g></g>
<line x1="210.2" y1="241.5" x2="421.4" y2="200.18" stroke="#262626" stroke-width="0.7"/>
<line x1="210.2" y1="241.5" x2="48.2" y2="187.5" stroke="#262626" stroke-width="0.7"/>
<line x1="48.2" y1="187.5" x2="48.2" y2="70.5" stroke="#262626" stroke-width="0.7"/>
<line x1="210.2" y1="241.5" x2="214.09" y2="242.8" stroke="#262626" stroke-width="0.7"/>
<line x1="263" y1="231.17" x2="266.89" y2="232.47" stroke="#262626" stroke-width="0.7"/>
<line x1="315.8" y1="220.84" x2="319.69" y2="222.14" stroke="#262626" stroke-width="0.7"/>
<line x1="368.6" y1="210.51" x2="372.49" y2="211.81" stroke="#262626" stroke-width="0.7"/>
<line x1="421.4" y1="200.18" x2="425.29" y2="201.48" stroke="#262626" stroke-width="0.7"/>
<line x1="210.2" y1="241.5" x2="206.08" y2="242.31" stroke="#262626" stroke-width="0.7"/>
<line x1="177.8" y1="230.7" x2="173.68" y2="231.51" stroke="#262626" stroke-width="0.7"/>
<line x1="145.4" y1="219.9" x2="141.28" y2="220.71" stroke="#262626" stroke-width="0.7"/>
<line x1="113" y1="209.1" x2="108.88" y2="209.91" stroke="#262626" stroke-width="0.7"/>
<line x1="80.6" y1="198.3" x2="76.48" y2="199.11" stroke="#262626" stroke-width="0.7"/>
<line x1="48.2" y1="187.5" x2="44.08" y2="188.31" stroke="#262626" stroke-width="0.7"/>
<line x1="48.2" y1="187.5" x2="43.8" y2="186.3" stroke="#262626" stroke-width="0.7"/>
<line x1="48.2" y1="164.1" x2="43.8" y2="162.9" stroke="#262626" stroke-width="0.7"/>
<line x1="48.2" y1="140.7" x2="43.8" y2="139.5" stroke="#262626" stroke-width="0.7"/>
<line x1="48.2" y1="117.3" x2="43.8" y2="116.1" stroke="#262626" stroke-width="0.7"/>
<line x1="48.2" y1="93.9" x2="43.8" y2="92.7" stroke="#262626" stroke-width="0.7"/>
<line x1="48.2" y1="70.5" x2="43.8" y2="69.3" stroke="#262626" stroke-width="0.7"/>
<text x="216.3" y="253" font-size="9.3" text-anchor="start" fill="#262626" stroke="#262626" stroke-width="0.18">0</text>
<text x="269.1" y="242.67" font-size="9.3" text-anchor="start" fill="#262626" stroke="#262626" stroke-width="0.18">100</text>
<text x="321.9" y="232.34" font-size="9.3" text-anchor="start" fill="#262626" stroke="#262626" stroke-width="0.18">200</text>
<text x="374.7" y="222.01" font-size="9.3" text-anchor="start" fill="#262626" stroke="#262626" stroke-width="0.18">300</text>
<text x="427.5" y="211.68" font-size="9.3" text-anchor="start" fill="#262626" stroke="#262626" stroke-width="0.18">400</text>
<text x="203.3" y="252.9" font-size="9.3" text-anchor="end" fill="#262626" stroke="#262626" stroke-width="0.18">0</text>
<text x="170.9" y="242.1" font-size="9.3" text-anchor="end" fill="#262626" stroke="#262626" stroke-width="0.18">100</text>
<text x="138.5" y="231.3" font-size="9.3" text-anchor="end" fill="#262626" stroke="#262626" stroke-width="0.18">200</text>
<text x="106.1" y="220.5" font-size="9.3" text-anchor="end" fill="#262626" stroke="#262626" stroke-width="0.18">300</text>
<text x="73.7" y="209.7" font-size="9.3" text-anchor="end" fill="#262626" stroke="#262626" stroke-width="0.18">400</text>
<text x="41.3" y="198.9" font-size="9.3" text-anchor="end" fill="#262626" stroke="#262626" stroke-width="0.18">500</text>
<text x="41.6" y="189.5" font-size="9.3" text-anchor="end" fill="#262626" stroke="#262626" stroke-width="0.18">0</text>
<text x="41.6" y="166.1" font-size="9.3" text-anchor="end" fill="#262626" stroke="#262626" stroke-width="0.18">0.2</text>
<text x="41.6" y="142.7" font-size="9.3" text-anchor="end" fill="#262626" stroke="#262626" stroke-width="0.18">0.4</text>
<text x="41.6" y="119.3" font-size="9.3" text-anchor="end" fill="#262626" stroke="#262626" stroke-width="0.18">0.6</text>
<text x="41.6" y="95.9" font-size="9.3" text-anchor="end" fill="#262626" stroke="#262626" stroke-width="0.18">0.8</text>
<text x="41.6" y="72.5" font-size="9.3" text-anchor="end" fill="#262626" stroke="#262626" stroke-width="0.18">1</text>
<text x="23.5" y="129.3" font-size="9.95" text-anchor="middle" fill="#262626" stroke="#262626" stroke-width="0.18" transform="rotate(-90 23.5 129.3)">Efficiency</text>
<text x="94.1" y="242.8" font-size="10.25" text-anchor="middle" fill="#262626" stroke="#262626" stroke-width="0.18">Output Power (kW)</text>
<text x="315.4" y="264.8" font-size="10.25" text-anchor="middle" fill="#262626" stroke="#262626" stroke-width="0.18">Mechanical Angular Velocity (rad/s)</text>
<text x="234.6" y="27.6" font-size="10.25" text-anchor="middle" fill="#000" stroke="#000" stroke-width="0.18">(a)</text>
<rect x="452.8" y="29.7" width="19" height="210.7" fill="url(#pg)" stroke="#262626" stroke-width="0.6"/>
<line x1="469.8" y1="240.4" x2="471.8" y2="240.4" stroke="#262626" stroke-width="0.6"/>
<text x="476" y="243.75" font-size="9.3" text-anchor="start" fill="#262626" stroke="#262626" stroke-width="0.18">0</text>
<line x1="469.8" y1="216.2" x2="471.8" y2="216.2" stroke="#262626" stroke-width="0.6"/>
<text x="476" y="219.55" font-size="9.3" text-anchor="start" fill="#262626" stroke="#262626" stroke-width="0.18">0.1</text>
<line x1="469.8" y1="192" x2="471.8" y2="192" stroke="#262626" stroke-width="0.6"/>
<text x="476" y="195.35" font-size="9.3" text-anchor="start" fill="#262626" stroke="#262626" stroke-width="0.18">0.2</text>
<line x1="469.8" y1="167.8" x2="471.8" y2="167.8" stroke="#262626" stroke-width="0.6"/>
<text x="476" y="171.15" font-size="9.3" text-anchor="start" fill="#262626" stroke="#262626" stroke-width="0.18">0.3</text>
<line x1="469.8" y1="143.6" x2="471.8" y2="143.6" stroke="#262626" stroke-width="0.6"/>
<text x="476" y="146.95" font-size="9.3" text-anchor="start" fill="#262626" stroke="#262626" stroke-width="0.18">0.4</text>
<line x1="469.8" y1="119.41" x2="471.8" y2="119.41" stroke="#262626" stroke-width="0.6"/>
<text x="476" y="122.75" font-size="9.3" text-anchor="start" fill="#262626" stroke="#262626" stroke-width="0.18">0.5</text>
<line x1="469.8" y1="95.21" x2="471.8" y2="95.21" stroke="#262626" stroke-width="0.6"/>
<text x="476" y="98.55" font-size="9.3" text-anchor="start" fill="#262626" stroke="#262626" stroke-width="0.18">0.6</text>
<line x1="469.8" y1="71.01" x2="471.8" y2="71.01" stroke="#262626" stroke-width="0.6"/>
<text x="476" y="74.36" font-size="9.3" text-anchor="start" fill="#262626" stroke="#262626" stroke-width="0.18">0.7</text>
<line x1="469.8" y1="46.81" x2="471.8" y2="46.81" stroke="#262626" stroke-width="0.6"/>
<text x="476" y="50.16" font-size="9.3" text-anchor="start" fill="#262626" stroke="#262626" stroke-width="0.18">0.8</text>

<rect x="48.4" y="297.6" width="145.8" height="211.8" fill="none" stroke="#262626" stroke-width="0.7"/>
<line x1="80.32" y1="509.4" x2="80.32" y2="507.3" stroke="#262626" stroke-width="0.6"/>
<line x1="80.32" y1="297.6" x2="80.32" y2="299.7" stroke="#262626" stroke-width="0.6"/>
<text x="80.32" y="522" font-size="9.75" text-anchor="middle" fill="#262626" stroke="#262626" stroke-width="0.18">5</text>
<line x1="113.24" y1="509.4" x2="113.24" y2="507.3" stroke="#262626" stroke-width="0.6"/>
<line x1="113.24" y1="297.6" x2="113.24" y2="299.7" stroke="#262626" stroke-width="0.6"/>
<text x="113.24" y="522" font-size="9.75" text-anchor="middle" fill="#262626" stroke="#262626" stroke-width="0.18">10</text>
<line x1="146.15" y1="509.4" x2="146.15" y2="507.3" stroke="#262626" stroke-width="0.6"/>
<line x1="146.15" y1="297.6" x2="146.15" y2="299.7" stroke="#262626" stroke-width="0.6"/>
<text x="146.15" y="522" font-size="9.75" text-anchor="middle" fill="#262626" stroke="#262626" stroke-width="0.18">15</text>
<line x1="179.06" y1="509.4" x2="179.06" y2="507.3" stroke="#262626" stroke-width="0.6"/>
<line x1="179.06" y1="297.6" x2="179.06" y2="299.7" stroke="#262626" stroke-width="0.6"/>
<text x="179.06" y="522" font-size="9.75" text-anchor="middle" fill="#262626" stroke="#262626" stroke-width="0.18">20</text>
<line x1="48.4" y1="509.4" x2="50.5" y2="509.4" stroke="#262626" stroke-width="0.6"/>
<line x1="194.2" y1="509.4" x2="192.1" y2="509.4" stroke="#262626" stroke-width="0.6"/>
<text x="45.6" y="512.9" font-size="9.75" text-anchor="end" fill="#262626" stroke="#262626" stroke-width="0.18">0</text>
<line x1="48.4" y1="484.19" x2="50.5" y2="484.19" stroke="#262626" stroke-width="0.6"/>
<line x1="194.2" y1="484.19" x2="192.1" y2="484.19" stroke="#262626" stroke-width="0.6"/>
<text x="45.6" y="487.69" font-size="9.75" text-anchor="end" fill="#262626" stroke="#262626" stroke-width="0.18">50</text>
<line x1="48.4" y1="458.97" x2="50.5" y2="458.97" stroke="#262626" stroke-width="0.6"/>
<line x1="194.2" y1="458.97" x2="192.1" y2="458.97" stroke="#262626" stroke-width="0.6"/>
<text x="45.6" y="462.47" font-size="9.75" text-anchor="end" fill="#262626" stroke="#262626" stroke-width="0.18">100</text>
<line x1="48.4" y1="433.76" x2="50.5" y2="433.76" stroke="#262626" stroke-width="0.6"/>
<line x1="194.2" y1="433.76" x2="192.1" y2="433.76" stroke="#262626" stroke-width="0.6"/>
<text x="45.6" y="437.26" font-size="9.75" text-anchor="end" fill="#262626" stroke="#262626" stroke-width="0.18">150</text>
<line x1="48.4" y1="408.54" x2="50.5" y2="408.54" stroke="#262626" stroke-width="0.6"/>
<line x1="194.2" y1="408.54" x2="192.1" y2="408.54" stroke="#262626" stroke-width="0.6"/>
<text x="45.6" y="412.04" font-size="9.75" text-anchor="end" fill="#262626" stroke="#262626" stroke-width="0.18">200</text>
<line x1="48.4" y1="383.33" x2="50.5" y2="383.33" stroke="#262626" stroke-width="0.6"/>
<line x1="194.2" y1="383.33" x2="192.1" y2="383.33" stroke="#262626" stroke-width="0.6"/>
<text x="45.6" y="386.83" font-size="9.75" text-anchor="end" fill="#262626" stroke="#262626" stroke-width="0.18">250</text>
<line x1="48.4" y1="358.11" x2="50.5" y2="358.11" stroke="#262626" stroke-width="0.6"/>
<line x1="194.2" y1="358.11" x2="192.1" y2="358.11" stroke="#262626" stroke-width="0.6"/>
<text x="45.6" y="361.61" font-size="9.75" text-anchor="end" fill="#262626" stroke="#262626" stroke-width="0.18">300</text>
<line x1="48.4" y1="332.9" x2="50.5" y2="332.9" stroke="#262626" stroke-width="0.6"/>
<line x1="194.2" y1="332.9" x2="192.1" y2="332.9" stroke="#262626" stroke-width="0.6"/>
<text x="45.6" y="336.4" font-size="9.75" text-anchor="end" fill="#262626" stroke="#262626" stroke-width="0.18">350</text>
<line x1="48.4" y1="307.69" x2="50.5" y2="307.69" stroke="#262626" stroke-width="0.6"/>
<line x1="194.2" y1="307.69" x2="192.1" y2="307.69" stroke="#262626" stroke-width="0.6"/>
<text x="45.6" y="311.19" font-size="9.75" text-anchor="end" fill="#262626" stroke="#262626" stroke-width="0.18">400</text>
<text x="121.3" y="295" font-size="11.0" text-anchor="middle" fill="#000" stroke="#000" stroke-width="0.18">(b)</text>
<text x="121.3" y="535.7" font-size="10.8" text-anchor="middle" fill="#262626" stroke="#262626" stroke-width="0.18">Velocity (m/s)</text>
<text x="25.2" y="403.5" font-size="10.8" text-anchor="middle" fill="#262626" stroke="#262626" stroke-width="0.18" transform="rotate(-90 25.2 403.5)">Tractive Force (kN)</text>
<rect x="202" y="297.6" width="14.6" height="211.8" fill="url(#pg)" stroke="#262626" stroke-width="0.6"/>
<line x1="214.6" y1="509.4" x2="216.6" y2="509.4" stroke="#262626" stroke-width="0.6"/>
<text x="220.8" y="512.91" font-size="9.75" text-anchor="start" fill="#262626" stroke="#262626" stroke-width="0.18">0.8</text>
<line x1="214.6" y1="474.1" x2="216.6" y2="474.1" stroke="#262626" stroke-width="0.6"/>
<text x="220.8" y="477.61" font-size="9.75" text-anchor="start" fill="#262626" stroke="#262626" stroke-width="0.18">0.81</text>
<line x1="214.6" y1="438.8" x2="216.6" y2="438.8" stroke="#262626" stroke-width="0.6"/>
<text x="220.8" y="442.31" font-size="9.75" text-anchor="start" fill="#262626" stroke="#262626" stroke-width="0.18">0.82</text>
<line x1="214.6" y1="403.5" x2="216.6" y2="403.5" stroke="#262626" stroke-width="0.6"/>
<text x="220.8" y="407.01" font-size="9.75" text-anchor="start" fill="#262626" stroke="#262626" stroke-width="0.18">0.83</text>
<line x1="214.6" y1="368.2" x2="216.6" y2="368.2" stroke="#262626" stroke-width="0.6"/>
<text x="220.8" y="371.71" font-size="9.75" text-anchor="start" fill="#262626" stroke="#262626" stroke-width="0.18">0.84</text>
<line x1="214.6" y1="332.9" x2="216.6" y2="332.9" stroke="#262626" stroke-width="0.6"/>
<text x="220.8" y="336.41" font-size="9.75" text-anchor="start" fill="#262626" stroke="#262626" stroke-width="0.18">0.85</text>
<line x1="214.6" y1="297.6" x2="216.6" y2="297.6" stroke="#262626" stroke-width="0.6"/>
<text x="220.8" y="301.11" font-size="9.75" text-anchor="start" fill="#262626" stroke="#262626" stroke-width="0.18">0.86</text>

<rect x="271.6" y="297.6" width="145.8" height="211.8" fill="none" stroke="#262626" stroke-width="0.7"/>
<line x1="303.42" y1="509.4" x2="303.42" y2="507.3" stroke="#262626" stroke-width="0.6"/>
<line x1="303.42" y1="297.6" x2="303.42" y2="299.7" stroke="#262626" stroke-width="0.6"/>
<text x="303.42" y="522" font-size="9.75" text-anchor="middle" fill="#262626" stroke="#262626" stroke-width="0.18">5</text>
<line x1="336.36" y1="509.4" x2="336.36" y2="507.3" stroke="#262626" stroke-width="0.6"/>
<line x1="336.36" y1="297.6" x2="336.36" y2="299.7" stroke="#262626" stroke-width="0.6"/>
<text x="336.36" y="522" font-size="9.75" text-anchor="middle" fill="#262626" stroke="#262626" stroke-width="0.18">10</text>
<line x1="369.31" y1="509.4" x2="369.31" y2="507.3" stroke="#262626" stroke-width="0.6"/>
<line x1="369.31" y1="297.6" x2="369.31" y2="299.7" stroke="#262626" stroke-width="0.6"/>
<text x="369.31" y="522" font-size="9.75" text-anchor="middle" fill="#262626" stroke="#262626" stroke-width="0.18">15</text>
<line x1="402.25" y1="509.4" x2="402.25" y2="507.3" stroke="#262626" stroke-width="0.6"/>
<line x1="402.25" y1="297.6" x2="402.25" y2="299.7" stroke="#262626" stroke-width="0.6"/>
<text x="402.25" y="522" font-size="9.75" text-anchor="middle" fill="#262626" stroke="#262626" stroke-width="0.18">20</text>
<line x1="271.6" y1="509.4" x2="273.7" y2="509.4" stroke="#262626" stroke-width="0.6"/>
<line x1="417.4" y1="509.4" x2="415.3" y2="509.4" stroke="#262626" stroke-width="0.6"/>
<text x="268.8" y="512.9" font-size="9.75" text-anchor="end" fill="#262626" stroke="#262626" stroke-width="0.18">0</text>
<line x1="271.6" y1="467.04" x2="273.7" y2="467.04" stroke="#262626" stroke-width="0.6"/>
<line x1="417.4" y1="467.04" x2="415.3" y2="467.04" stroke="#262626" stroke-width="0.6"/>
<text x="268.8" y="470.54" font-size="9.75" text-anchor="end" fill="#262626" stroke="#262626" stroke-width="0.18">10</text>
<line x1="271.6" y1="424.68" x2="273.7" y2="424.68" stroke="#262626" stroke-width="0.6"/>
<line x1="417.4" y1="424.68" x2="415.3" y2="424.68" stroke="#262626" stroke-width="0.6"/>
<text x="268.8" y="428.18" font-size="9.75" text-anchor="end" fill="#262626" stroke="#262626" stroke-width="0.18">20</text>
<line x1="271.6" y1="382.32" x2="273.7" y2="382.32" stroke="#262626" stroke-width="0.6"/>
<line x1="417.4" y1="382.32" x2="415.3" y2="382.32" stroke="#262626" stroke-width="0.6"/>
<text x="268.8" y="385.82" font-size="9.75" text-anchor="end" fill="#262626" stroke="#262626" stroke-width="0.18">30</text>
<line x1="271.6" y1="339.96" x2="273.7" y2="339.96" stroke="#262626" stroke-width="0.6"/>
<line x1="417.4" y1="339.96" x2="415.3" y2="339.96" stroke="#262626" stroke-width="0.6"/>
<text x="268.8" y="343.46" font-size="9.75" text-anchor="end" fill="#262626" stroke="#262626" stroke-width="0.18">40</text>
<line x1="271.6" y1="297.6" x2="273.7" y2="297.6" stroke="#262626" stroke-width="0.6"/>
<line x1="417.4" y1="297.6" x2="415.3" y2="297.6" stroke="#262626" stroke-width="0.6"/>
<text x="268.8" y="301.1" font-size="9.75" text-anchor="end" fill="#262626" stroke="#262626" stroke-width="0.18">50</text>
<text x="344.5" y="295" font-size="11.0" text-anchor="middle" fill="#000" stroke="#000" stroke-width="0.18">(c)</text>
<text x="344.5" y="535.7" font-size="10.8" text-anchor="middle" fill="#262626" stroke="#262626" stroke-width="0.18">Velocity (m/s)</text>
<text x="253.9" y="403.5" font-size="10.8" text-anchor="middle" fill="#262626" stroke="#262626" stroke-width="0.18" transform="rotate(-90 253.9 403.5)">Tractive Force (kN)</text>
<rect x="425.1" y="297.6" width="14.6" height="211.8" fill="url(#pg)" stroke="#262626" stroke-width="0.6"/>
<line x1="437.7" y1="509.4" x2="439.7" y2="509.4" stroke="#262626" stroke-width="0.6"/>
<text x="443.9" y="512.91" font-size="9.75" text-anchor="start" fill="#262626" stroke="#262626" stroke-width="0.18">0</text>
<line x1="437.7" y1="482.92" x2="439.7" y2="482.92" stroke="#262626" stroke-width="0.6"/>
<text x="443.9" y="486.43" font-size="9.75" text-anchor="start" fill="#262626" stroke="#262626" stroke-width="0.18">0.1</text>
<line x1="437.7" y1="456.45" x2="439.7" y2="456.45" stroke="#262626" stroke-width="0.6"/>
<text x="443.9" y="459.96" font-size="9.75" text-anchor="start" fill="#262626" stroke="#262626" stroke-width="0.18">0.2</text>
<line x1="437.7" y1="429.98" x2="439.7" y2="429.98" stroke="#262626" stroke-width="0.6"/>
<text x="443.9" y="433.49" font-size="9.75" text-anchor="start" fill="#262626" stroke="#262626" stroke-width="0.18">0.3</text>
<line x1="437.7" y1="403.5" x2="439.7" y2="403.5" stroke="#262626" stroke-width="0.6"/>
<text x="443.9" y="407.01" font-size="9.75" text-anchor="start" fill="#262626" stroke="#262626" stroke-width="0.18">0.4</text>
<line x1="437.7" y1="377.02" x2="439.7" y2="377.02" stroke="#262626" stroke-width="0.6"/>
<text x="443.9" y="380.53" font-size="9.75" text-anchor="start" fill="#262626" stroke="#262626" stroke-width="0.18">0.5</text>
<line x1="437.7" y1="350.55" x2="439.7" y2="350.55" stroke="#262626" stroke-width="0.6"/>
<text x="443.9" y="354.06" font-size="9.75" text-anchor="start" fill="#262626" stroke="#262626" stroke-width="0.18">0.6</text>
<line x1="437.7" y1="324.08" x2="439.7" y2="324.08" stroke="#262626" stroke-width="0.6"/>
<text x="443.9" y="327.59" font-size="9.75" text-anchor="start" fill="#262626" stroke="#262626" stroke-width="0.18">0.7</text>
<line x1="437.7" y1="297.6" x2="439.7" y2="297.6" stroke="#262626" stroke-width="0.6"/>
<text x="443.9" y="301.11" font-size="9.75" text-anchor="start" fill="#262626" stroke="#262626" stroke-width="0.18">0.8</text>
<clipPath id="cpb"><rect x="48.4" y="297.6" width="145.9" height="211.9"/></clipPath><g clip-path="url(#cpb)" fill="none" stroke-width="1.35" stroke-linejoin="round"><path d="M48.7,297.7L48.83,346.86L49.22,402.04L49.39,413.07L49.69,426.11L49.94,434.13L50.3,442.15L51.07,457.19L51.62,465.19L52.18,470.17L53.46,479.13L53.96,482.1L54.37,484.05L54.85,486L55.44,487.95L56.13,489.85L56.8,491.4L57.38,492.54L58.47,494.3L59.72,495.92L60.4,496.63L61.1,497.26L62.73,498.39L64.54,499.37L66.39,500.2L68.25,500.9L71.14,501.81L73.1,502.31L75.05,502.73L79.99,503.57L85.97,504.36L97.94,505.71L103.94,506.26L108.94,506.6L116.96,506.95L124.98,507.2L139.02,507.5L154.07,507.73L194.2,508.1" stroke="#3e26a8"/><path d="M49.2,297.7L49.36,347.96L49.81,401.22L49.98,410.26L50.27,420.31L50.69,432.36L51.07,440.4L51.78,452.44L52.56,462.46L53.3,469.45L54.31,476.42L55.36,482.38L55.82,484.33L56.38,486.24L57.1,488.16L57.95,490.02L58.92,491.76L59.45,492.56L60.05,493.36L61.43,494.89L62.97,496.25L64,497L65.42,497.87L67.22,498.8L69.1,499.62L71.02,500.31L72.93,500.85L74.89,501.29L81.84,502.51L87.81,503.38L97.79,504.59L103.79,505.21L109.8,505.65L117.83,506.04L130.89,506.49L144.96,506.89L158.02,507.17L178.12,507.46L194.2,507.6" stroke="#475bf9"/><path d="M49.7,297.7L49.85,347.86L50.31,401.02L50.47,409.04L50.74,418.07L51.2,430.1L51.56,437.11L52.31,448.12L53.12,457.11L54.5,469.08L55.04,473.06L55.52,476.03L56,478.6L56.54,480.94L57.08,482.89L57.71,484.81L58.42,486.65L59.28,488.47L60.31,490.26L60.88,491.11L62.1,492.67L62.76,493.37L63.48,494.03L65.09,495.29L66.83,496.38L68,497L70.43,498.06L72.34,498.75L74.28,499.34L76.22,499.85L79.14,500.51L82.1,501.07L89.05,502.15L97.01,503.19L104.99,504.05L113.99,504.77L123.01,505.3L135.03,505.83L147.06,506.26L159.09,506.58L179.15,506.95L194.2,507.1" stroke="#2797eb"/><path d="M50.2,297.7L50.24,322.8L50.38,348.9L50.61,374.99L50.92,401.08L51.08,408.1L51.4,417.13L52.06,431.17L52.46,438.19L53.2,448L53.9,455.19L54.92,463.16L55.38,466.13L55.93,469.09L56.57,472.04L57.4,475.4L58.07,477.88L58.98,480.78L59.68,482.65L60.49,484.45L61.47,486.24L62.58,487.95L63.78,489.54L65.1,491.01L66.59,492.41L68.19,493.67L69.6,494.6L70.72,495.23L72.54,496.11L74.42,496.87L76,497.4L78.24,498.03L83.15,499.12L92.06,500.69L100.01,501.91L107.98,502.89L116.97,503.74L123.98,504.24L136.01,504.89L148.04,505.41L160,505.8L179.14,506.27L194.2,506.5" stroke="#12beb9"/><path d="M50.8,297.7L50.87,341.95L51.08,380.11L51.4,412.22L51.5,415.22L51.75,419.24L52.81,431.25L54.54,446.22L56.17,458.18L56.65,461.15L57.21,464.1L57.67,466.05L58.53,468.95L59.54,471.8L60.65,474.59L61.94,477.33L62.89,479.12L64,481L65,482.51L66.21,484.14L67.52,485.67L68.89,487.12L70.37,488.51L72.73,490.41L74.39,491.49L76.15,492.45L77.98,493.33L80.75,494.51L85.49,496.2L95.12,499.16L98.04,499.91L100.98,500.5L107.9,501.53L115.91,502.45L122.93,503.05L132.95,503.68L144.99,504.26L159.05,504.77L178.13,505.3L194.2,505.6" stroke="#81cc59"/><path d="M52.3,297.7L52.36,315.78L52.55,335.87L52.86,356.95L53.32,381.04L53.56,388.06L54.3,404.11L54.9,419.17L55.21,425.19L55.5,429.18L56.11,434.17L58.14,447.07L59.65,454.97L61,460.8L62.44,465.66L63.11,467.56L64,469.8L64.65,471.24L65.57,473.04L66.58,474.79L68,477L69.42,478.91L70.73,480.45L72.11,481.91L73.56,483.3L75.08,484.62L77.45,486.49L79.91,488.24L81.61,489.32L83.2,490.2L84.27,490.7L94.52,494.9L97.8,496L102.21,497.09L105.17,497.69L110.12,498.6L119.04,500.04L126.01,500.91L134.02,501.6L145.04,502.41L155.06,502.95L178.14,503.88L194.2,504.3" stroke="#fbbc3d"/><path d="M54.6,297.7L55.68,317.81L56.57,336.93L56.96,346.99L57.64,369.14L58.06,379.2L58.53,386.23L59.88,401.28L60.69,409.29L61.54,416.29L62.41,422.28L63.4,428L64.28,432.16L65.53,437.05L66.93,441.88L68.52,446.67L69.96,450.44L71.56,454.12L72.91,456.82L75.76,462.17L77.75,465.67L79.99,469.01L81.85,471.43L84,473.8L86.14,475.63L91.06,479.18L94.46,481.4L97.09,482.86L99.81,484.07L101.69,484.79L104.56,485.77L112.26,488.25L115.15,489.12L120.04,490.29L125,491.2" stroke="#f9fb15"/><path d="M125,491.2 L130,492.2 L134,492.8 L138.8,493.3 L142,492.5 L144.5,493 L146.8,493.9 L149.5,494 L152.4,494.4 L154.8,493.6 L156.5,494.6 L158,495.2 L160.5,495.5 L162.8,496 L164.5,495 L166,494.4 L169.5,493.6 L173.2,493.1 L175,493.6 L177.2,494.4 L179,495.6 L181.2,496.3 L183,495.7 L185.2,495.5 L187.5,496 L190,496 L192,495 L194.2,494" stroke="#f9fb15"/><path d="M149.7,304.9L150.69,308.83L152.4,314.2L153.66,319.56L154.19,321.51L156.31,328.28L157.67,334.2L158.47,337.13L160.4,343L162.31,349.72L163.2,352.62L166,360.6L168.11,367.01L169.2,370L170.34,372.64L173.2,378.6L178,389.19L180.64,394.67L182.95,399.18L185.88,404.5L188.48,408.85L191.24,413.08L194.2,417.2" stroke="#f9fb15"/></g>
<clipPath id="cpc"><rect x="271.6" y="297.6" width="145.9" height="211.9"/></clipPath><g clip-path="url(#cpc)" fill="none" stroke-width="1.35" stroke-linejoin="round"><path d="M271.6,485L271.67,491.16L271.84,496.16L272,499.2L272.11,500.1L272.36,501.12L272.7,502.12L273.55,503.91L274.08,504.69L274.8,505.48L275.63,506.2L276.53,506.79L277.42,507.16L279.21,507.5L282.12,507.91L286.24,508.28L290.42,508.47L294.46,508.53L321.61,508.79L349.79,508.97L417.4,509.1" stroke="#484cef"/><path d="M271.6,455L271.69,471.18L271.96,486.29L272.12,490.32L272.57,494.37L273.1,497.6L273.51,499.36L274.2,501.39L274.63,502.29L275.2,503.2L275.67,503.73L276.41,504.37L277.29,504.97L278.25,505.51L279.25,505.95L280.24,506.28L281.18,506.47L284.05,506.9L287.02,507.26L293.16,507.75L299.32,507.99L326.52,508.4L354.75,508.68L385.04,508.85L417.4,508.9" stroke="#347afd"/><path d="M271.6,425L271.92,446.17L272.45,470.36L272.65,475.4L272.88,479.43L273.6,488L274.01,491.5L274.5,494.51L275.2,497.6L275.81,499.39L276.25,500.37L276.75,501.28L277.31,502.07L277.91,502.7L278.65,503.29L279.5,503.85L280.44,504.36L282.43,505.18L284,505.6L287.28,506.14L291.29,506.62L295.37,506.96L299.45,507.18L305.48,507.4L322.61,507.86L341.78,508.15L382.11,508.41L417.4,508.5" stroke="#21a3e3"/><path d="M271.6,385L271.64,397.1L271.79,411.2L272.36,442.43L272.65,450.49L273.27,463.58L273.68,470.63L274.2,477.66L274.67,482.67L275.18,486.7L275.69,489.67L276.35,492.6L276.66,493.57L277.39,495.49L278.4,497.6L279.26,499.05L279.87,499.93L280.54,500.77L281.24,501.51L282.4,502.4L284.47,503.4L286.4,504.1L289.47,504.9L291.5,505.24L295.46,505.64L300.46,506.01L305.51,506.29L325.71,507.02L344.85,507.46L384.14,507.87L417.4,508" stroke="#12beb9"/><path d="M272.3,297.7L272.42,340.94L272.76,383.15L273.1,409.27L273.52,435.39L273.68,443.42L273.96,450.46L274.49,459.49L275.16,468.51L275.81,474.53L276.68,480.47L277.08,482.44L277.56,484.4L278.42,487.31L279.2,489.6L279.77,491.1L280.6,493L281.56,494.79L282.1,495.6L282.68,496.33L284.07,497.74L284.87,498.41L286.59,499.61L287.48,500.14L288.8,500.8L292.01,502.05L294.94,502.94L296.93,503.42L298.93,503.82L303.87,504.54L309.88,505.17L314.91,505.54L324.94,506.03L333.98,506.36L344.04,506.63L384.23,507.21L401.32,507.35L417.4,507.4" stroke="#5ccc76"/><path d="M273.5,297.7L273.55,318.77L273.71,340.84L274.42,397.02L274.94,419.09L275.41,435.14L275.72,442.15L276.26,449.15L277.68,464.15L278.42,470.11L279.24,475.08L279.87,478.04L280.35,479.98L280.89,481.89L281.54,483.79L282.34,485.67L283.24,487.48L284,488.8L284.79,490.01L286.04,491.62L287.42,493.13L288.8,494.4L289.64,495.08L291.27,496.25L293,497.33L295.71,498.74L297.54,499.49L299.41,500.17L302.29,501.08L304.26,501.61L308,502.4L314.13,503.31L320.13,503.97L328.13,504.6L337.15,505.17L346.17,505.55L366.23,506.02L384.28,506.34L401.34,506.54L417.4,506.6" stroke="#c8c129"/><path d="M274.6,297.7L274.67,315.78L274.89,335.87L275.3,359.96L275.84,386.07L276.31,400.12L276.95,415.17L277.56,426.2L278.34,437.22L279.06,445.23L279.91,452.2L280.77,457.15L281.9,462.05L282.66,464.96L283.5,467.87L284.46,470.74L285.18,472.61L285.98,474.43L286.89,476.22L287.91,477.98L289.01,479.68L290.4,481.6L292.08,483.62L293.48,485.09L294.97,486.49L296.5,487.77L298.09,488.95L300.62,490.62L302.38,491.64L304.17,492.58L306.4,493.6L308.75,494.52L311.61,495.51L314.51,496.39L317.44,497.17L324.29,498.72L329.24,499.61L333.22,500.15L359.21,502.71L366.22,503.29L381.25,504.08L395.29,504.67L407.35,505L417.4,505.1" stroke="#feca33"/><path d="M278.4,297.7L279.11,313.79L280.05,331.89L281.15,350.99L282.21,367.07L283.21,380.12L284.04,389.14L284.94,397.14L286.07,405.12L287.92,416.04L289.93,425.91L291.05,430.81L292.28,435.7L293.34,439.59L294.76,444.43L296.09,448.22L296.88,450.06L297.76,451.88L299.19,454.56L300.68,457.17L302.26,459.77L303.93,462.3L305.71,464.74L306.97,466.28L308.98,468.54L311.12,470.71L313.37,472.74L314.91,474.01L317.31,475.83L319.83,477.55L322.42,479.13L324.17,480.09L326.87,481.41L329.64,482.63L332.46,483.76L336.23,485.17L342.94,487.34L345.83,488.23L348,488.8L354.69,490.12L357.63,490.79L364.44,492.69L367.36,493.44L369.6,493.9L373.28,494.51L380.27,495.46L389.29,496.43L396.31,497.02L417.4,498.6" stroke="#f9fb15"/></g>
</svg>
</body></html>
